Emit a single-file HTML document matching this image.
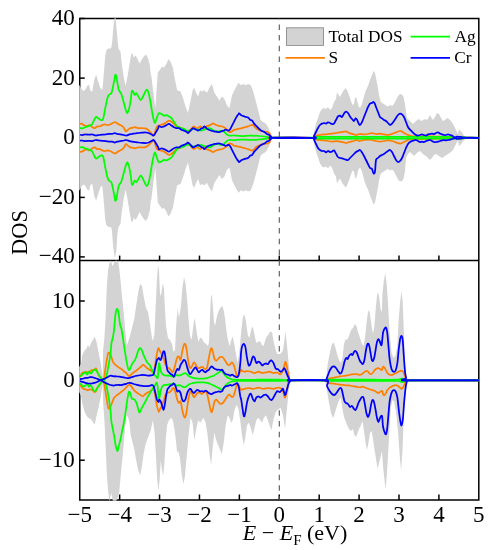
<!DOCTYPE html>
<html><head><meta charset="utf-8"><style>
html,body{margin:0;padding:0;background:#fff;}
svg{display:block;}
text{font-family:"Liberation Serif","Times New Roman",serif;fill:#000;}
</style></head><body>
<svg width="494" height="550" viewBox="0 0 494 550">
<rect width="494" height="550" fill="#fff"/>
<defs>
<clipPath id="ct"><rect x="79.0" y="17.75" width="400.55" height="242.85000000000002"/></clipPath>
<clipPath id="cb"><rect x="79.0" y="260.6" width="400.55" height="240.14999999999998"/></clipPath>
</defs><rect x="79.75" y="18.5" width="399.05" height="481.5" fill="none" stroke="#000" stroke-width="1.5"/><line x1="79.75" y1="260.6" x2="478.8" y2="260.6" stroke="#000" stroke-width="1.5"/><line x1="119.66" y1="260.6" x2="119.66" y2="255.60000000000002" stroke="#000" stroke-width="1.5"/><line x1="119.66" y1="500.0" x2="119.66" y2="494.5" stroke="#000" stroke-width="1.5"/><line x1="159.56" y1="260.6" x2="159.56" y2="255.60000000000002" stroke="#000" stroke-width="1.5"/><line x1="159.56" y1="500.0" x2="159.56" y2="494.5" stroke="#000" stroke-width="1.5"/><line x1="199.47" y1="260.6" x2="199.47" y2="255.60000000000002" stroke="#000" stroke-width="1.5"/><line x1="199.47" y1="500.0" x2="199.47" y2="494.5" stroke="#000" stroke-width="1.5"/><line x1="239.37" y1="260.6" x2="239.37" y2="255.60000000000002" stroke="#000" stroke-width="1.5"/><line x1="239.37" y1="500.0" x2="239.37" y2="494.5" stroke="#000" stroke-width="1.5"/><line x1="279.27" y1="260.6" x2="279.27" y2="255.60000000000002" stroke="#000" stroke-width="1.5"/><line x1="279.27" y1="500.0" x2="279.27" y2="494.5" stroke="#000" stroke-width="1.5"/><line x1="319.18" y1="260.6" x2="319.18" y2="255.60000000000002" stroke="#000" stroke-width="1.5"/><line x1="319.18" y1="500.0" x2="319.18" y2="494.5" stroke="#000" stroke-width="1.5"/><line x1="359.08" y1="260.6" x2="359.08" y2="255.60000000000002" stroke="#000" stroke-width="1.5"/><line x1="359.08" y1="500.0" x2="359.08" y2="494.5" stroke="#000" stroke-width="1.5"/><line x1="398.99" y1="260.6" x2="398.99" y2="255.60000000000002" stroke="#000" stroke-width="1.5"/><line x1="398.99" y1="500.0" x2="398.99" y2="494.5" stroke="#000" stroke-width="1.5"/><line x1="438.90" y1="260.6" x2="438.90" y2="255.60000000000002" stroke="#000" stroke-width="1.5"/><line x1="438.90" y1="500.0" x2="438.90" y2="494.5" stroke="#000" stroke-width="1.5"/><line x1="79.75" y1="18.5" x2="84.75" y2="18.5" stroke="#000" stroke-width="1.5"/><line x1="79.75" y1="78.1" x2="84.75" y2="78.1" stroke="#000" stroke-width="1.5"/><line x1="79.75" y1="137.8" x2="84.75" y2="137.8" stroke="#000" stroke-width="1.5"/><line x1="79.75" y1="197.4" x2="84.75" y2="197.4" stroke="#000" stroke-width="1.5"/><line x1="79.75" y1="256.9" x2="84.75" y2="256.9" stroke="#000" stroke-width="1.5"/><line x1="79.75" y1="301.0" x2="84.75" y2="301.0" stroke="#000" stroke-width="1.5"/><line x1="79.75" y1="380.6" x2="84.75" y2="380.6" stroke="#000" stroke-width="1.5"/><line x1="79.75" y1="460.2" x2="84.75" y2="460.2" stroke="#000" stroke-width="1.5"/><line x1="279.3" y1="18.5" x2="279.3" y2="500.0" stroke="#555" stroke-width="1.1" stroke-dasharray="5.5 5.22" stroke-dashoffset="4.82"/><g clip-path="url(#ct)"><path d="M79.2,84.8 L81.0,87.9 L83.0,90.9 L85.1,89.9 L87.1,85.9 L89.1,84.8 L90.1,89.9 L92.2,91.9 L94.2,79.8 L96.2,74.7 L98.2,81.8 L100.3,87.9 L102.3,89.9 L103.3,79.8 L104.3,67.6 L105.3,55.5 L106.3,50.4 L108.4,48.4 L110.4,48.4 L111.4,47.4 L112.4,39.3 L113.4,27.1 L114.4,19.0 L115.4,16.6 L116.4,27.1 L117.5,39.3 L118.5,48.4 L120.5,51.4 L121.5,61.6 L123.5,75.7 L125.6,85.9 L127.6,75.7 L129.6,63.6 L131.2,54.5 L132.6,53.5 L133.7,57.5 L135.7,55.5 L137.7,59.5 L139.7,63.6 L141.8,59.5 L143.8,56.5 L145.8,54.5 L147.8,57.5 L149.9,65.6 L150.9,75.7 L151.3,75.3 L153.3,92.8 L155.3,107.9 L157.8,72.8 L159.6,70.2 L162.1,66.5 L163.8,67.7 L166.4,64.0 L168.4,58.9 L170.4,61.5 L172.9,67.7 L174.6,77.8 L177.1,90.3 L180.5,91.6 L183.0,97.9 L185.5,106.6 L188.0,112.9 L190.6,100.4 L192.6,90.3 L194.3,87.8 L196.1,92.8 L198.1,96.6 L200.1,90.3 L201.8,91.6 L204.4,90.3 L206.9,92.8 L209.4,87.8 L211.9,84.0 L214.4,92.8 L216.9,96.6 L219.4,100.4 L221.9,96.6 L224.4,99.1 L226.9,105.4 L229.5,107.9 L232.0,95.3 L234.5,90.3 L237.0,85.3 L238.7,82.8 L240.8,85.3 L243.3,84.0 L245.8,85.3 L248.3,84.0 L250.8,85.3 L252.8,90.3 L254.6,96.6 L256.3,103.0 L258.4,111.3 L260.5,119.7 L262.6,121.8 L264.7,122.8 L266.8,124.9 L268.9,129.1 L271.0,134.3 L273.1,137.8 L312.4,137.8 L314.0,132.0 L316.0,124.0 L318.0,118.0 L320.0,112.0 L322.0,109.0 L324.0,108.0 L326.0,109.0 L328.0,107.0 L330.0,110.0 L332.0,108.0 L334.0,102.0 L336.0,99.0 L337.0,92.0 L338.0,94.0 L340.0,97.0 L342.0,93.0 L344.0,90.0 L345.6,88.0 L347.0,90.0 L349.0,95.0 L351.0,101.0 L352.4,105.0 L354.0,104.0 L355.0,98.0 L356.0,97.0 L357.0,100.0 L358.4,106.0 L360.0,108.0 L362.0,104.0 L364.0,96.0 L366.0,90.0 L368.0,86.0 L370.0,80.0 L372.0,75.0 L373.6,71.0 L375.0,73.0 L376.4,80.0 L377.6,86.0 L379.0,95.0 L380.4,101.0 L382.0,103.0 L384.0,104.0 L386.0,105.6 L388.0,106.4 L390.0,105.0 L392.0,106.0 L394.0,104.0 L396.0,100.0 L398.0,96.0 L400.0,94.0 L402.0,94.4 L403.6,97.0 L405.0,104.0 L406.0,112.0 L407.0,118.0 L409.0,120.0 L411.0,122.0 L413.0,124.0 L415.0,122.0 L417.0,120.0 L419.0,119.0 L421.0,121.0 L423.0,120.0 L425.0,119.0 L427.0,120.0 L428.4,118.0 L430.0,115.0 L431.6,118.0 L433.0,120.0 L435.0,117.0 L437.0,113.0 L439.0,114.0 L441.0,118.0 L443.0,121.0 L445.0,120.0 L447.0,118.0 L449.0,119.0 L451.0,121.0 L453.0,124.0 L455.0,128.0 L457.0,132.0 L458.0,134.0 L458.9,129.2 L461.4,131.7 L463.9,135.5 L466.4,137.5 L478.8,137.8 L478.8,137.8 L466.4,138.0 L463.9,140.0 L461.4,143.8 L458.9,146.3 L458.0,140.0 L457.0,142.0 L455.0,146.0 L453.0,150.0 L451.0,152.0 L448.0,154.0 L445.0,156.0 L442.0,158.0 L439.0,156.0 L436.0,154.0 L434.0,155.0 L432.0,158.0 L430.0,160.0 L428.0,158.0 L426.0,156.0 L423.0,154.0 L420.0,151.0 L418.0,152.0 L416.0,154.0 L414.0,156.0 L412.0,154.0 L410.0,152.0 L408.0,154.0 L406.0,158.0 L405.0,171.5 L403.6,178.5 L402.0,181.1 L400.0,181.5 L398.0,179.5 L396.0,175.5 L394.0,171.5 L392.0,169.5 L390.0,170.5 L388.0,169.1 L386.0,169.9 L384.0,171.5 L382.0,172.5 L380.4,174.5 L379.0,180.5 L377.6,189.5 L376.4,195.5 L375.0,202.5 L373.6,204.5 L372.0,200.5 L370.0,195.5 L368.0,189.5 L366.0,185.5 L364.0,179.5 L362.0,171.5 L360.0,167.5 L358.4,169.5 L357.0,175.5 L356.0,178.5 L355.0,177.5 L354.0,171.5 L352.4,170.5 L351.0,174.5 L349.0,180.5 L347.0,185.5 L345.6,187.5 L344.0,185.5 L342.0,182.5 L340.0,178.5 L338.0,181.5 L337.0,183.5 L336.0,176.5 L334.0,173.5 L332.0,167.5 L330.0,165.5 L328.0,168.5 L326.0,166.5 L324.0,167.5 L322.0,166.5 L320.0,163.5 L318.0,157.5 L316.0,151.5 L314.0,143.5 L312.4,137.8 L273.1,137.7 L271.0,141.2 L268.9,146.4 L266.8,150.6 L264.7,152.7 L262.6,153.7 L260.5,155.8 L258.4,164.2 L256.3,172.5 L254.6,178.9 L252.8,185.2 L250.8,190.2 L248.3,191.5 L245.8,190.2 L243.3,191.5 L240.8,190.2 L238.7,192.7 L237.0,190.2 L234.5,185.2 L232.0,180.2 L229.5,167.6 L226.9,170.1 L224.4,176.4 L221.9,178.9 L219.4,175.1 L216.9,178.9 L214.4,182.7 L211.9,191.5 L209.4,187.7 L206.9,182.7 L204.4,185.2 L201.8,183.9 L200.1,185.2 L198.1,178.9 L196.1,182.7 L194.3,187.7 L192.6,185.2 L190.6,175.1 L188.0,162.6 L185.5,168.9 L183.0,177.6 L180.5,183.9 L177.1,185.2 L174.6,197.7 L172.9,207.8 L170.4,214.0 L168.4,216.6 L166.4,211.5 L163.8,207.8 L162.1,209.0 L159.6,205.3 L157.8,202.7 L155.3,167.6 L153.3,182.7 L151.3,200.2 L150.9,199.8 L149.9,209.9 L147.8,218.0 L145.8,221.0 L143.8,219.0 L141.8,216.0 L139.7,211.9 L137.7,216.0 L135.7,220.0 L133.7,218.0 L132.6,222.0 L131.2,221.0 L129.6,211.9 L127.6,199.8 L125.6,189.6 L123.5,199.8 L121.5,213.9 L120.5,224.1 L118.5,227.1 L117.6,232.0 L117.0,240.0 L116.4,250.0 L115.2,256.9 L114.6,256.9 L114.0,252.0 L113.0,245.0 L112.1,232.0 L111.4,228.1 L110.4,227.1 L108.4,227.1 L106.3,225.1 L105.3,220.0 L104.3,207.9 L103.3,195.7 L102.3,185.6 L100.3,187.6 L98.2,193.7 L96.2,200.8 L94.2,195.7 L92.2,183.6 L90.1,185.6 L89.1,190.7 L87.1,189.6 L85.1,185.6 L83.0,184.6 L81.0,187.6 L79.2,190.7 Z" fill="#d3d3d3" stroke="none"/><path d="M80.0,123.9C80.2,123.9 80.8,123.4 81.5,123.6C82.2,123.8 83.2,124.7 84.0,125.1C84.8,125.5 85.8,126.0 86.5,126.1C87.2,126.2 87.6,125.7 88.1,125.6C88.7,125.4 89.1,124.8 89.8,125.1C90.5,125.3 91.5,126.7 92.3,127.2C93.1,127.7 93.9,128.2 94.8,128.1C95.6,127.9 96.4,126.7 97.3,126.4C98.1,126.1 98.9,126.6 99.8,126.4C100.6,126.2 101.4,125.4 102.2,125.1C103.1,124.7 103.9,124.4 104.7,124.4C105.6,124.4 106.4,125.0 107.2,125.1C108.1,125.1 108.9,125.0 109.7,124.7C110.5,124.5 111.4,123.9 112.2,123.4C113.0,123.0 113.9,122.1 114.7,122.1C115.5,122.0 116.2,122.7 116.8,123.1C117.5,123.5 118.1,124.0 118.8,124.4C119.6,124.8 120.5,125.0 121.3,125.6C122.2,126.1 123.1,126.8 123.8,127.7C124.6,128.7 125.1,131.0 125.8,131.4C126.5,131.7 127.2,130.3 128.0,129.7C128.7,129.2 129.6,128.4 130.5,128.1C131.3,127.7 132.1,127.9 133.0,127.7C133.8,127.6 134.6,127.2 135.4,127.2C136.3,127.3 137.1,127.9 137.9,128.1C138.8,128.2 139.6,128.1 140.4,128.1C141.3,128.1 142.1,128.0 142.9,128.1C143.7,128.1 144.6,128.1 145.4,128.4C146.2,128.7 147.1,129.1 147.9,129.7C148.7,130.4 149.6,131.4 150.4,132.2C151.2,133.0 152.2,134.4 152.9,134.7C153.6,135.0 154.0,135.0 154.5,133.9C155.1,132.8 155.6,129.4 156.2,128.1C156.7,126.7 157.4,126.0 157.9,125.6C158.3,125.2 158.4,125.7 159.0,125.6C159.6,125.4 160.7,125.0 161.5,124.7C162.3,124.5 163.2,124.3 164.0,123.9C164.8,123.5 165.6,122.8 166.5,122.3C167.3,121.7 168.1,120.7 169.0,120.6C169.8,120.5 170.6,121.2 171.5,121.8C172.3,122.3 173.1,123.1 173.9,123.9C174.8,124.7 175.6,125.8 176.4,126.4C177.3,127.0 178.1,127.0 178.9,127.2C179.8,127.5 180.6,127.7 181.4,128.1C182.2,128.4 183.1,128.8 183.9,129.4C184.7,129.9 185.6,130.9 186.4,131.4C187.2,131.9 187.9,132.5 188.5,132.2C189.2,131.9 189.9,130.5 190.5,129.7C191.1,129.0 191.6,128.3 192.2,127.7C192.8,127.2 193.3,126.4 193.9,126.4C194.4,126.4 195.0,127.4 195.5,127.7C196.1,128.1 196.6,128.5 197.2,128.4C197.7,128.3 198.3,127.6 198.8,127.2C199.4,126.9 199.9,126.3 200.5,126.4C201.1,126.5 201.6,127.8 202.2,128.1C202.7,128.3 203.1,128.0 203.8,127.7C204.5,127.5 205.5,126.8 206.3,126.4C207.1,126.0 208.0,125.9 208.8,125.6C209.6,125.2 210.6,124.8 211.3,124.4C212.0,124.0 212.3,123.4 213.0,123.4C213.6,123.5 214.6,124.4 215.4,124.7C216.3,125.1 217.1,125.3 217.9,125.6C218.8,125.8 219.6,125.9 220.4,126.1C221.3,126.3 222.1,126.4 222.9,126.7C223.7,127.1 224.6,127.4 225.4,128.1C226.2,128.7 227.2,129.9 227.9,130.6C228.6,131.2 228.9,132.1 229.6,132.2C230.2,132.3 231.4,131.7 232.0,131.4C232.7,131.0 232.4,130.5 233.4,130.1C234.3,129.8 236.1,129.4 237.5,129.1C238.9,128.8 240.3,128.4 241.7,128.1C243.1,127.7 244.7,127.4 245.9,127.0C247.1,126.7 248.0,126.3 249.0,126.0C250.1,125.6 251.3,124.9 252.2,124.9C253.0,125.0 253.6,125.8 254.3,126.4C254.9,127.0 255.5,127.8 256.3,128.5C257.2,129.1 258.4,129.7 259.5,130.1C260.5,130.6 261.6,130.9 262.6,131.2C263.7,131.5 264.9,131.6 265.7,131.8C266.6,132.0 267.1,131.9 267.8,132.2C268.5,132.6 269.1,133.0 269.9,133.9C270.8,134.8 266.0,137.1 273.1,137.8C280.1,138.4 305.6,138.0 312.4,137.8C319.2,137.5 313.4,136.8 314.0,136.4C314.6,136.0 315.0,135.8 316.0,135.6C317.0,135.4 318.7,135.2 320.0,135.0C321.3,134.8 322.7,134.6 324.0,134.4C325.3,134.2 326.7,134.1 328.0,134.0C329.3,133.9 330.7,133.8 332.0,133.6C333.3,133.4 334.7,133.2 336.0,133.0C337.3,132.8 338.7,132.6 340.0,132.4C341.3,132.2 343.0,131.8 344.0,131.6C345.0,131.4 345.3,131.3 346.0,131.4C346.7,131.5 347.2,132.0 348.0,132.4C348.8,132.8 350.0,133.3 351.0,133.6C352.0,133.9 353.2,134.2 354.0,134.4C354.8,134.6 355.3,135.0 356.0,135.0C356.7,135.0 357.3,134.6 358.0,134.4C358.7,134.2 359.0,134.0 360.0,134.0C361.0,134.0 362.7,134.4 364.0,134.4C365.3,134.4 366.7,134.2 368.0,134.0C369.3,133.8 370.7,133.0 372.0,133.0C373.3,133.0 374.7,133.9 376.0,134.0C377.3,134.1 378.7,133.5 380.0,133.6C381.3,133.7 382.7,134.2 384.0,134.4C385.3,134.6 386.7,135.1 388.0,135.0C389.3,134.9 390.7,134.4 392.0,134.0C393.3,133.6 394.7,132.9 396.0,132.4C397.3,131.9 399.0,131.1 400.0,131.0C401.0,130.9 401.3,131.3 402.0,131.6C402.7,131.9 403.3,132.6 404.0,133.0C404.7,133.4 405.3,133.7 406.0,134.0C406.7,134.3 407.2,134.7 408.0,135.0C408.8,135.3 410.0,135.8 411.0,136.0C412.0,136.2 412.5,136.3 414.0,136.4C415.5,136.5 418.0,136.5 420.0,136.4C422.0,136.3 424.0,136.0 426.0,136.0C428.0,136.0 429.7,136.3 432.0,136.4C434.3,136.5 437.3,136.5 440.0,136.6C442.7,136.7 445.3,136.8 448.0,137.0C450.7,137.2 454.2,137.6 456.0,137.6C457.8,137.6 457.5,136.8 458.9,136.8C460.2,136.7 460.5,137.3 463.9,137.5C467.2,137.7 476.3,137.7 478.8,137.8" fill="none" stroke="#ff8000" stroke-width="1.75" stroke-linejoin="round"/><path d="M80.0,151.6C80.2,151.6 80.8,152.1 81.5,151.9C82.2,151.7 83.2,150.8 84.0,150.4C84.8,150.0 85.8,149.5 86.5,149.4C87.2,149.3 87.6,149.8 88.1,149.9C88.7,150.1 89.1,150.7 89.8,150.4C90.5,150.2 91.5,148.8 92.3,148.3C93.1,147.8 93.9,147.3 94.8,147.4C95.6,147.6 96.4,148.8 97.3,149.1C98.1,149.4 98.9,148.9 99.8,149.1C100.6,149.3 101.4,150.1 102.2,150.4C103.1,150.8 103.9,151.1 104.7,151.1C105.6,151.1 106.4,150.5 107.2,150.4C108.1,150.4 108.9,150.5 109.7,150.8C110.5,151.0 111.4,151.6 112.2,152.1C113.0,152.5 113.9,153.4 114.7,153.4C115.5,153.5 116.2,152.8 116.8,152.4C117.5,152.0 118.1,151.5 118.8,151.1C119.6,150.7 120.5,150.5 121.3,149.9C122.2,149.4 123.1,148.7 123.8,147.8C124.6,146.8 125.1,144.5 125.8,144.1C126.5,143.8 127.2,145.2 128.0,145.8C128.7,146.3 129.6,147.1 130.5,147.4C131.3,147.8 132.1,147.6 133.0,147.8C133.8,147.9 134.6,148.3 135.4,148.3C136.3,148.2 137.1,147.6 137.9,147.4C138.8,147.3 139.6,147.4 140.4,147.4C141.3,147.4 142.1,147.5 142.9,147.4C143.7,147.4 144.6,147.4 145.4,147.1C146.2,146.8 147.1,146.4 147.9,145.8C148.7,145.1 149.6,144.1 150.4,143.3C151.2,142.5 152.2,141.1 152.9,140.8C153.6,140.5 154.0,140.5 154.5,141.6C155.1,142.7 155.6,146.1 156.2,147.4C156.7,148.8 157.4,149.5 157.9,149.9C158.3,150.3 158.4,149.8 159.0,149.9C159.6,150.1 160.7,150.5 161.5,150.8C162.3,151.0 163.2,151.2 164.0,151.6C164.8,152.0 165.6,152.7 166.5,153.2C167.3,153.8 168.1,154.8 169.0,154.9C169.8,155.0 170.6,154.3 171.5,153.7C172.3,153.2 173.1,152.4 173.9,151.6C174.8,150.8 175.6,149.7 176.4,149.1C177.3,148.5 178.1,148.5 178.9,148.3C179.8,148.0 180.6,147.8 181.4,147.4C182.2,147.1 183.1,146.7 183.9,146.1C184.7,145.6 185.6,144.6 186.4,144.1C187.2,143.6 187.9,143.0 188.5,143.3C189.2,143.6 189.9,145.0 190.5,145.8C191.1,146.5 191.6,147.2 192.2,147.8C192.8,148.3 193.3,149.1 193.9,149.1C194.4,149.1 195.0,148.1 195.5,147.8C196.1,147.4 196.6,147.0 197.2,147.1C197.7,147.2 198.3,147.9 198.8,148.3C199.4,148.6 199.9,149.2 200.5,149.1C201.1,149.0 201.6,147.7 202.2,147.4C202.7,147.2 203.1,147.5 203.8,147.8C204.5,148.0 205.5,148.7 206.3,149.1C207.1,149.5 208.0,149.6 208.8,149.9C209.6,150.3 210.6,150.7 211.3,151.1C212.0,151.5 212.3,152.1 213.0,152.1C213.6,152.0 214.6,151.1 215.4,150.8C216.3,150.4 217.1,150.2 217.9,149.9C218.8,149.7 219.6,149.6 220.4,149.4C221.3,149.2 222.1,149.1 222.9,148.8C223.7,148.4 224.6,148.1 225.4,147.4C226.2,146.8 227.2,145.6 227.9,144.9C228.6,144.3 228.9,143.4 229.6,143.3C230.2,143.2 231.4,143.8 232.0,144.1C232.7,144.5 232.4,145.0 233.4,145.4C234.3,145.7 236.1,146.1 237.5,146.4C238.9,146.7 240.3,147.1 241.7,147.4C243.1,147.8 244.7,148.1 245.9,148.5C247.1,148.8 248.0,149.2 249.0,149.5C250.1,149.9 251.3,150.6 252.2,150.6C253.0,150.5 253.6,149.7 254.3,149.1C254.9,148.5 255.5,147.7 256.3,147.0C257.2,146.4 258.4,145.8 259.5,145.4C260.5,144.9 261.6,144.6 262.6,144.3C263.7,144.0 264.9,143.9 265.7,143.7C266.6,143.5 267.1,143.6 267.8,143.3C268.5,142.9 269.1,142.5 269.9,141.6C270.8,140.7 266.0,138.4 273.1,137.7C280.1,137.1 305.2,137.4 312.4,137.8C319.6,138.1 314.7,139.2 316.0,139.6C317.3,140.0 318.7,139.9 320.0,140.0C321.3,140.1 322.7,140.2 324.0,140.4C325.3,140.6 326.7,140.8 328.0,141.0C329.3,141.2 330.7,141.6 332.0,141.6C333.3,141.6 334.7,141.0 336.0,141.0C337.3,141.0 338.7,141.4 340.0,141.6C341.3,141.8 343.0,142.2 344.0,142.4C345.0,142.6 345.3,143.0 346.0,143.0C346.7,143.0 347.2,142.6 348.0,142.4C348.8,142.2 350.0,141.8 351.0,141.6C352.0,141.4 353.2,141.3 354.0,141.0C354.8,140.7 355.3,140.1 356.0,140.0C356.7,139.9 357.3,140.4 358.0,140.6C358.7,140.8 359.0,141.1 360.0,141.0C361.0,140.9 362.7,140.2 364.0,140.0C365.3,139.8 366.7,139.6 368.0,139.6C369.3,139.6 370.7,139.8 372.0,140.0C373.3,140.2 374.7,140.7 376.0,141.0C377.3,141.3 378.7,141.6 380.0,141.6C381.3,141.6 382.7,141.2 384.0,141.0C385.3,140.8 386.7,140.4 388.0,140.4C389.3,140.4 390.7,140.7 392.0,141.0C393.3,141.3 394.7,142.0 396.0,142.4C397.3,142.8 399.0,143.5 400.0,143.6C401.0,143.7 401.3,143.3 402.0,143.0C402.7,142.7 403.3,142.3 404.0,142.0C404.7,141.7 405.3,141.3 406.0,141.0C406.7,140.7 407.2,140.3 408.0,140.0C408.8,139.7 410.0,139.4 411.0,139.2C412.0,139.0 411.5,139.0 414.0,139.0C416.5,139.0 422.3,139.1 426.0,139.0C429.7,138.9 432.3,138.7 436.0,138.6C439.7,138.5 444.7,138.5 448.0,138.4C451.3,138.3 454.2,137.9 456.0,138.0C457.8,138.1 457.5,138.7 458.9,138.7C460.2,138.7 460.5,138.2 463.9,138.0C467.2,137.8 476.3,137.8 478.8,137.8" fill="none" stroke="#ff8000" stroke-width="1.75" stroke-linejoin="round"/><path d="M80.0,128.1C80.4,128.1 81.5,128.5 82.3,128.4C83.1,128.3 84.0,127.6 84.8,127.2C85.6,126.9 86.5,126.7 87.3,126.4C88.1,126.1 89.0,126.0 89.8,125.6C90.6,125.2 91.3,125.3 92.3,123.9C93.2,122.5 94.6,118.2 95.6,117.3C96.6,116.3 97.3,117.7 98.1,118.1C98.9,118.5 99.8,119.6 100.6,119.8C101.4,119.9 102.2,121.1 103.1,118.9C103.9,116.7 104.9,109.8 105.6,106.5C106.3,103.2 106.7,100.9 107.2,99.0C107.8,97.1 108.2,95.8 108.9,94.9C109.6,93.9 110.7,94.6 111.4,93.2C112.1,91.8 112.5,88.8 113.0,86.6C113.5,84.3 114.0,81.9 114.4,79.9C114.7,78.0 114.9,75.5 115.2,74.9C115.5,74.4 116.0,75.2 116.4,76.6C116.7,78.0 117.1,81.0 117.5,83.2C117.9,85.5 118.2,88.1 118.8,89.9C119.5,91.7 120.6,92.1 121.3,94.0C122.1,96.0 122.8,99.0 123.5,101.5C124.2,104.0 124.9,107.0 125.5,109.0C126.1,110.9 126.6,113.0 127.1,113.1C127.7,113.3 128.2,111.7 128.8,109.8C129.4,107.9 130.0,104.5 130.5,101.5C131.0,98.5 131.4,93.3 131.8,91.5C132.2,89.8 132.5,90.7 133.0,91.2C133.4,91.8 134.1,94.5 134.6,94.9C135.2,95.2 135.7,93.1 136.3,93.2C136.8,93.3 137.2,94.6 137.9,95.7C138.6,96.8 139.7,99.4 140.4,99.8C141.1,100.3 141.4,99.3 142.1,98.2C142.8,97.1 143.8,94.6 144.6,93.2C145.3,91.8 146.0,89.5 146.7,89.5C147.4,89.5 148.1,91.2 148.7,93.2C149.3,95.2 149.8,98.5 150.4,101.5C150.9,104.5 151.5,108.4 152.0,111.5C152.6,114.5 153.2,117.8 153.7,119.8C154.2,121.7 154.6,123.1 155.0,123.1C155.4,123.1 155.7,121.1 156.2,119.8C156.7,118.4 157.4,115.9 157.9,114.8C158.3,113.7 158.4,113.3 159.0,113.1C159.6,113.0 160.7,113.5 161.5,114.0C162.3,114.4 163.2,115.4 164.0,115.6C164.8,115.8 165.6,115.0 166.5,115.1C167.3,115.3 168.1,115.9 169.0,116.4C169.8,116.9 170.8,117.4 171.5,118.1C172.1,118.8 172.6,119.8 173.1,120.6C173.7,121.4 174.2,122.3 174.8,123.1C175.3,123.9 175.9,124.9 176.4,125.6C177.0,126.3 177.5,126.9 178.1,127.2C178.6,127.6 179.2,127.6 179.8,127.7C180.3,127.9 180.7,127.9 181.4,128.1C182.1,128.3 183.1,128.5 183.9,128.9C184.7,129.3 185.6,130.3 186.4,130.6C187.2,130.8 188.1,130.7 188.9,130.6C189.7,130.4 190.5,130.0 191.4,129.7C192.2,129.4 193.0,128.9 193.9,128.9C194.7,128.8 195.5,129.3 196.4,129.4C197.2,129.5 198.0,129.5 198.8,129.7C199.7,129.9 200.5,130.6 201.3,130.6C202.2,130.6 203.0,130.0 203.8,129.7C204.7,129.4 205.5,129.2 206.3,128.9C207.1,128.6 208.0,128.1 208.8,128.1C209.6,128.1 210.5,128.5 211.3,128.9C212.1,129.3 213.0,130.1 213.8,130.6C214.6,131.0 215.4,131.2 216.3,131.4C217.1,131.5 217.9,131.5 218.8,131.4C219.6,131.2 220.4,130.6 221.3,130.6C222.1,130.6 222.9,130.8 223.7,131.4C224.6,131.9 225.4,133.2 226.2,133.9C227.1,134.6 227.8,135.3 228.7,135.5C229.7,135.8 231.3,135.6 232.0,135.5C232.8,135.5 231.7,135.3 233.4,135.4C235.0,135.4 238.9,136.0 241.7,136.0C244.5,136.0 247.3,135.6 250.1,135.6C252.9,135.6 255.6,135.8 258.4,136.0C261.2,136.2 264.4,136.5 266.8,136.8C269.2,137.1 265.3,137.6 273.1,137.8C280.8,137.9 305.6,137.7 313.1,137.5C320.7,137.4 311.5,136.9 318.2,136.8C324.9,136.7 344.5,136.8 353.3,136.8C362.1,136.8 367.5,136.8 370.9,136.8C374.2,136.8 359.3,136.8 373.5,136.8C387.8,136.8 441.1,136.7 456.3,136.8C471.6,136.9 461.4,137.4 465.1,137.5C468.9,137.7 476.5,137.7 478.8,137.8" fill="none" stroke="#00ff00" stroke-width="1.75" stroke-linejoin="round"/><path d="M80.0,147.4C80.4,147.4 81.5,147.0 82.3,147.1C83.1,147.2 84.0,147.9 84.8,148.3C85.6,148.6 86.5,148.8 87.3,149.1C88.1,149.4 89.0,149.5 89.8,149.9C90.6,150.3 91.3,150.2 92.3,151.6C93.2,153.0 94.6,157.3 95.6,158.2C96.6,159.2 97.3,157.8 98.1,157.4C98.9,157.0 99.8,155.9 100.6,155.7C101.4,155.6 102.2,154.4 103.1,156.6C103.9,158.8 104.9,165.7 105.6,169.0C106.3,172.3 106.7,174.6 107.2,176.5C107.8,178.4 108.2,179.7 108.9,180.6C109.6,181.6 110.7,180.9 111.4,182.3C112.1,183.7 112.5,186.7 113.0,188.9C113.5,191.2 114.0,193.6 114.4,195.6C114.7,197.5 114.9,200.0 115.2,200.6C115.5,201.1 116.0,200.3 116.4,198.9C116.7,197.5 117.1,194.5 117.5,192.3C117.9,190.0 118.2,187.4 118.8,185.6C119.5,183.8 120.6,183.4 121.3,181.5C122.1,179.5 122.8,176.5 123.5,174.0C124.2,171.5 124.9,168.5 125.5,166.5C126.1,164.6 126.6,162.5 127.1,162.4C127.7,162.2 128.2,163.8 128.8,165.7C129.4,167.6 130.0,171.0 130.5,174.0C131.0,177.0 131.4,182.2 131.8,184.0C132.2,185.7 132.5,184.8 133.0,184.3C133.4,183.7 134.1,181.0 134.6,180.6C135.2,180.3 135.7,182.4 136.3,182.3C136.8,182.2 137.2,180.9 137.9,179.8C138.6,178.7 139.7,176.1 140.4,175.7C141.1,175.2 141.4,176.2 142.1,177.3C142.8,178.4 143.8,180.9 144.6,182.3C145.3,183.7 146.0,186.0 146.7,186.0C147.4,186.0 148.1,184.3 148.7,182.3C149.3,180.3 149.8,177.0 150.4,174.0C150.9,171.0 151.5,167.1 152.0,164.0C152.6,161.0 153.2,157.7 153.7,155.7C154.2,153.8 154.6,152.4 155.0,152.4C155.4,152.4 155.7,154.4 156.2,155.7C156.7,157.1 157.4,159.6 157.9,160.7C158.3,161.8 158.4,162.2 159.0,162.4C159.6,162.5 160.7,162.0 161.5,161.5C162.3,161.1 163.2,160.1 164.0,159.9C164.8,159.7 165.6,160.5 166.5,160.4C167.3,160.2 168.1,159.6 169.0,159.1C169.8,158.6 170.8,158.1 171.5,157.4C172.1,156.7 172.6,155.7 173.1,154.9C173.7,154.1 174.2,153.2 174.8,152.4C175.3,151.6 175.9,150.6 176.4,149.9C177.0,149.2 177.5,148.6 178.1,148.3C178.6,147.9 179.2,147.9 179.8,147.8C180.3,147.6 180.7,147.6 181.4,147.4C182.1,147.2 183.1,147.0 183.9,146.6C184.7,146.2 185.6,145.2 186.4,144.9C187.2,144.7 188.1,144.8 188.9,144.9C189.7,145.1 190.5,145.5 191.4,145.8C192.2,146.1 193.0,146.6 193.9,146.6C194.7,146.7 195.5,146.2 196.4,146.1C197.2,146.0 198.0,146.0 198.8,145.8C199.7,145.6 200.5,144.9 201.3,144.9C202.2,144.9 203.0,145.5 203.8,145.8C204.7,146.1 205.5,146.3 206.3,146.6C207.1,146.9 208.0,147.4 208.8,147.4C209.6,147.4 210.5,147.0 211.3,146.6C212.1,146.2 213.0,145.4 213.8,144.9C214.6,144.5 215.4,144.3 216.3,144.1C217.1,144.0 217.9,144.0 218.8,144.1C219.6,144.3 220.4,144.9 221.3,144.9C222.1,144.9 222.9,144.7 223.7,144.1C224.6,143.6 225.4,142.3 226.2,141.6C227.1,140.9 227.8,140.2 228.7,140.0C229.7,139.7 231.3,139.9 232.0,140.0C232.8,140.0 231.7,140.2 233.4,140.1C235.0,140.1 238.9,139.5 241.7,139.5C244.5,139.5 247.3,139.9 250.1,139.9C252.9,139.9 255.6,139.7 258.4,139.5C261.2,139.3 264.4,139.0 266.8,138.7C269.2,138.4 265.3,137.9 273.1,137.7C280.8,137.6 305.6,137.8 313.1,138.0C320.7,138.1 311.5,138.6 318.2,138.7C324.9,138.8 344.5,138.7 353.3,138.7C362.1,138.7 367.5,138.7 370.9,138.7C374.2,138.7 359.3,138.7 373.5,138.7C387.8,138.7 441.1,138.8 456.3,138.7C471.6,138.6 461.4,138.1 465.1,138.0C468.9,137.8 476.5,137.8 478.8,137.8" fill="none" stroke="#00ff00" stroke-width="1.75" stroke-linejoin="round"/><path d="M80.0,134.7C80.4,134.8 81.4,135.1 82.3,135.0C83.3,135.0 84.5,134.4 85.6,134.4C86.7,134.3 87.9,134.7 89.0,134.7C90.1,134.7 91.2,134.2 92.3,134.4C93.4,134.5 94.5,135.4 95.6,135.5C96.7,135.6 97.8,135.2 98.9,135.0C100.0,134.9 101.1,134.8 102.2,134.7C103.3,134.6 104.5,134.5 105.6,134.4C106.7,134.2 107.8,134.0 108.9,133.9C110.0,133.8 111.2,134.0 112.2,133.9C113.2,133.7 113.9,133.0 114.7,133.0C115.5,133.0 116.2,133.6 117.2,133.9C118.1,134.1 119.4,134.2 120.5,134.4C121.6,134.6 122.9,134.8 123.8,135.0C124.8,135.2 125.5,135.6 126.3,135.5C127.1,135.5 127.8,135.0 128.8,134.7C129.8,134.4 131.0,134.1 132.1,133.9C133.2,133.6 134.3,133.5 135.4,133.4C136.5,133.2 137.7,133.2 138.8,133.0C139.9,132.9 141.0,132.8 142.1,132.7C143.2,132.6 144.3,132.3 145.4,132.4C146.5,132.4 147.6,132.7 148.7,133.0C149.8,133.4 151.2,134.3 152.0,134.7C152.9,135.1 153.1,135.8 153.7,135.5C154.3,135.3 154.7,134.1 155.4,133.0C156.1,131.9 157.2,130.1 157.9,128.9C158.5,127.7 158.4,126.3 159.0,126.1C159.6,125.8 160.7,127.2 161.5,127.2C162.3,127.3 163.2,126.8 164.0,126.4C164.8,126.0 165.6,125.5 166.5,125.1C167.3,124.7 168.1,123.8 169.0,123.9C169.8,124.0 170.6,125.0 171.5,125.6C172.3,126.1 173.1,126.8 173.9,127.2C174.8,127.6 175.6,127.9 176.4,128.1C177.3,128.2 178.1,127.8 178.9,128.1C179.8,128.3 180.6,129.3 181.4,129.7C182.2,130.1 183.1,130.2 183.9,130.6C184.7,130.9 185.7,131.3 186.4,131.7C187.1,132.1 187.5,133.1 188.1,133.0C188.6,133.0 189.2,131.9 189.7,131.4C190.3,130.8 190.8,130.3 191.4,129.7C191.9,129.2 192.5,128.2 193.0,128.1C193.6,127.9 194.1,128.6 194.7,128.9C195.2,129.2 195.8,129.4 196.4,129.7C196.9,130.0 197.5,130.6 198.0,130.6C198.6,130.6 199.1,130.1 199.7,129.7C200.2,129.4 200.8,128.7 201.3,128.4C201.9,128.1 202.5,128.4 203.0,128.1C203.5,127.7 203.7,126.5 204.2,126.4C204.6,126.3 205.0,126.8 205.5,127.2C206.0,127.6 206.6,128.5 207.1,128.9C207.7,129.3 208.1,129.4 208.8,129.7C209.5,130.0 210.5,130.3 211.3,130.6C212.1,130.8 213.0,131.2 213.8,131.4C214.6,131.6 215.4,131.6 216.3,131.7C217.1,131.9 217.9,132.3 218.8,132.2C219.6,132.2 220.4,131.7 221.3,131.4C222.1,131.1 223.0,130.8 223.7,130.6C224.4,130.3 224.8,129.8 225.4,129.7C226.0,129.6 226.5,129.9 227.1,130.1C227.6,130.2 228.2,130.7 228.7,130.6C229.3,130.4 229.8,129.7 230.4,128.9C230.9,128.1 231.5,126.7 232.0,125.6C232.6,124.5 233.1,123.4 233.7,122.3C234.3,121.1 234.8,120.0 235.4,118.9C235.9,117.9 236.5,116.9 237.0,116.1C237.6,115.3 238.3,114.4 238.7,114.0C239.0,113.5 238.7,113.2 239.2,113.4C239.7,113.7 240.8,115.0 241.7,115.5C242.7,116.0 243.8,116.2 244.8,116.6C245.9,116.9 247.1,117.1 248.0,117.6C248.9,118.1 249.4,119.2 250.1,119.7C250.8,120.2 251.5,120.0 252.2,120.7C252.9,121.4 253.6,123.0 254.3,123.9C254.9,124.7 255.6,125.3 256.3,126.0C257.0,126.7 257.7,127.4 258.4,128.1C259.1,128.8 259.8,129.6 260.5,130.1C261.2,130.7 261.9,130.8 262.6,131.2C263.3,131.5 264.0,131.8 264.7,132.2C265.4,132.7 266.1,133.5 266.8,133.9C267.5,134.3 268.2,134.3 268.9,134.7C269.6,135.2 270.3,135.9 271.0,136.4C271.7,136.9 266.2,137.5 273.1,137.8C280.0,138.0 305.6,138.0 312.4,137.8C319.2,137.5 313.4,137.0 314.0,136.0C314.6,135.0 315.3,133.3 316.0,132.0C316.7,130.7 317.3,129.2 318.0,128.0C318.7,126.8 319.3,125.7 320.0,125.0C320.7,124.3 321.3,123.9 322.0,123.6C322.7,123.3 323.3,123.0 324.0,123.0C324.7,123.0 325.3,123.7 326.0,123.6C326.7,123.5 327.3,122.5 328.0,122.4C328.7,122.3 329.3,122.7 330.0,123.0C330.7,123.3 331.3,123.9 332.0,124.0C332.7,124.1 333.3,124.3 334.0,123.6C334.7,122.9 335.3,121.2 336.0,120.0C336.7,118.8 337.3,117.1 338.0,116.4C338.7,115.7 339.3,115.5 340.0,115.6C340.7,115.7 341.3,117.3 342.0,117.0C342.7,116.7 343.3,114.5 344.0,113.6C344.7,112.7 345.3,111.7 346.0,111.6C346.7,111.5 347.3,112.2 348.0,113.0C348.7,113.8 349.3,115.4 350.0,116.4C350.7,117.4 351.3,118.2 352.0,119.0C352.7,119.8 353.4,121.1 354.0,121.0C354.6,120.9 355.1,118.6 355.6,118.4C356.1,118.2 356.5,118.8 357.0,119.6C357.5,120.4 357.9,122.1 358.4,123.0C358.9,123.9 359.4,125.2 360.0,125.0C360.6,124.8 361.3,123.3 362.0,122.0C362.7,120.7 363.3,118.7 364.0,117.0C364.7,115.3 365.3,113.7 366.0,112.0C366.7,110.3 367.3,108.4 368.0,107.0C368.7,105.6 369.3,104.3 370.0,103.6C370.7,102.9 371.4,103.3 372.0,103.0C372.6,102.7 373.1,101.8 373.6,102.0C374.1,102.2 374.6,103.2 375.0,104.0C375.4,104.8 375.5,105.7 376.0,107.0C376.5,108.3 377.3,110.3 378.0,112.0C378.7,113.7 379.3,115.9 380.0,117.0C380.7,118.1 381.3,117.9 382.0,118.4C382.7,118.9 383.3,119.6 384.0,120.0C384.7,120.4 385.3,120.5 386.0,121.0C386.7,121.5 387.3,122.3 388.0,123.0C388.7,123.7 389.3,124.9 390.0,125.0C390.7,125.1 391.3,124.3 392.0,123.6C392.7,122.9 393.3,121.9 394.0,121.0C394.7,120.1 395.3,119.0 396.0,118.0C396.7,117.0 397.3,115.7 398.0,115.0C398.7,114.3 399.3,113.7 400.0,113.6C400.7,113.5 401.3,113.8 402.0,114.4C402.7,115.0 403.3,115.7 404.0,117.0C404.7,118.3 405.3,120.3 406.0,122.0C406.7,123.7 407.3,125.7 408.0,127.0C408.7,128.3 409.3,128.8 410.0,129.6C410.7,130.4 411.3,130.9 412.0,131.6C412.7,132.3 413.3,133.0 414.0,133.6C414.7,134.2 415.3,134.7 416.0,135.0C416.7,135.3 417.3,135.6 418.0,135.6C418.7,135.6 419.3,135.2 420.0,135.0C420.7,134.8 421.3,134.4 422.0,134.4C422.7,134.4 423.3,134.8 424.0,135.0C424.7,135.2 425.3,135.7 426.0,135.6C426.7,135.5 427.3,134.7 428.0,134.4C428.7,134.1 429.3,134.1 430.0,134.0C430.7,133.9 431.3,133.6 432.0,133.6C432.7,133.6 433.3,134.1 434.0,134.0C434.7,133.9 435.3,133.3 436.0,133.0C436.7,132.7 437.3,132.3 438.0,132.4C438.7,132.5 439.3,133.3 440.0,133.6C440.7,133.9 441.3,134.2 442.0,134.4C442.7,134.6 443.3,134.9 444.0,135.0C444.7,135.1 445.3,135.1 446.0,135.0C446.7,134.9 447.3,134.4 448.0,134.4C448.7,134.4 449.3,134.8 450.0,135.0C450.7,135.2 451.3,135.3 452.0,135.6C452.7,135.9 453.3,136.7 454.0,137.0C454.7,137.3 455.6,137.6 456.0,137.6C456.4,137.6 455.9,136.9 456.3,136.8C456.8,136.6 458.0,136.7 458.9,136.8C459.7,136.8 460.5,136.9 461.4,137.0C462.2,137.1 461.0,137.4 463.9,137.5C466.8,137.6 476.3,137.7 478.8,137.8" fill="none" stroke="#0000ff" stroke-width="1.75" stroke-linejoin="round"/><path d="M80.0,140.8C80.4,140.7 81.4,140.4 82.3,140.5C83.3,140.5 84.5,141.1 85.6,141.1C86.7,141.2 87.9,140.8 89.0,140.8C90.1,140.8 91.2,141.3 92.3,141.1C93.4,141.0 94.5,140.1 95.6,140.0C96.7,139.9 97.8,140.3 98.9,140.5C100.0,140.6 101.1,140.7 102.2,140.8C103.3,140.9 104.5,141.0 105.6,141.1C106.7,141.3 107.8,141.5 108.9,141.6C110.0,141.7 111.2,141.5 112.2,141.6C113.2,141.8 113.9,142.5 114.7,142.5C115.5,142.5 116.2,141.9 117.2,141.6C118.1,141.4 119.4,141.3 120.5,141.1C121.6,140.9 122.9,140.7 123.8,140.5C124.8,140.3 125.5,139.9 126.3,140.0C127.1,140.0 127.8,140.5 128.8,140.8C129.8,141.1 131.0,141.4 132.1,141.6C133.2,141.9 134.3,142.0 135.4,142.1C136.5,142.3 137.7,142.3 138.8,142.5C139.9,142.6 141.0,142.7 142.1,142.8C143.2,142.9 144.3,143.2 145.4,143.1C146.5,143.1 147.6,142.8 148.7,142.5C149.8,142.1 151.2,141.2 152.0,140.8C152.9,140.4 153.1,139.7 153.7,140.0C154.3,140.2 154.7,141.4 155.4,142.5C156.1,143.6 157.2,145.4 157.9,146.6C158.5,147.8 158.4,149.2 159.0,149.4C159.6,149.7 160.7,148.3 161.5,148.3C162.3,148.2 163.2,148.7 164.0,149.1C164.8,149.5 165.6,150.0 166.5,150.4C167.3,150.8 168.1,151.7 169.0,151.6C169.8,151.5 170.6,150.5 171.5,149.9C172.3,149.4 173.1,148.7 173.9,148.3C174.8,147.9 175.6,147.6 176.4,147.4C177.3,147.3 178.1,147.7 178.9,147.4C179.8,147.2 180.6,146.2 181.4,145.8C182.2,145.4 183.1,145.3 183.9,144.9C184.7,144.6 185.7,144.2 186.4,143.8C187.1,143.4 187.5,142.4 188.1,142.5C188.6,142.5 189.2,143.6 189.7,144.1C190.3,144.7 190.8,145.2 191.4,145.8C191.9,146.3 192.5,147.3 193.0,147.4C193.6,147.6 194.1,146.9 194.7,146.6C195.2,146.3 195.8,146.1 196.4,145.8C196.9,145.5 197.5,144.9 198.0,144.9C198.6,144.9 199.1,145.4 199.7,145.8C200.2,146.1 200.8,146.8 201.3,147.1C201.9,147.4 202.5,147.1 203.0,147.4C203.5,147.8 203.7,149.0 204.2,149.1C204.6,149.2 205.0,148.7 205.5,148.3C206.0,147.9 206.6,147.0 207.1,146.6C207.7,146.2 208.1,146.1 208.8,145.8C209.5,145.5 210.5,145.2 211.3,144.9C212.1,144.7 213.0,144.3 213.8,144.1C214.6,143.9 215.4,143.9 216.3,143.8C217.1,143.6 217.9,143.2 218.8,143.3C219.6,143.3 220.4,143.8 221.3,144.1C222.1,144.4 223.0,144.7 223.7,144.9C224.4,145.2 224.8,145.7 225.4,145.8C226.0,145.9 226.5,145.6 227.1,145.4C227.6,145.3 228.2,144.8 228.7,144.9C229.3,145.1 229.8,145.8 230.4,146.6C230.9,147.4 231.5,148.8 232.0,149.9C232.6,151.0 233.1,152.1 233.7,153.2C234.3,154.4 234.8,155.5 235.4,156.6C235.9,157.6 236.5,158.6 237.0,159.4C237.6,160.2 238.3,161.1 238.7,161.5C239.0,162.0 238.7,162.3 239.2,162.1C239.7,161.8 240.8,160.5 241.7,160.0C242.7,159.5 243.8,159.3 244.8,158.9C245.9,158.6 247.1,158.4 248.0,157.9C248.9,157.4 249.4,156.3 250.1,155.8C250.8,155.3 251.5,155.5 252.2,154.8C252.9,154.1 253.6,152.5 254.3,151.6C254.9,150.8 255.6,150.2 256.3,149.5C257.0,148.8 257.7,148.1 258.4,147.4C259.1,146.7 259.8,145.9 260.5,145.4C261.2,144.8 261.9,144.7 262.6,144.3C263.3,144.0 264.0,143.7 264.7,143.3C265.4,142.8 266.1,142.0 266.8,141.6C267.5,141.2 268.2,141.2 268.9,140.8C269.6,140.3 270.3,139.6 271.0,139.1C271.7,138.6 266.2,138.0 273.1,137.7C280.0,137.5 305.6,137.4 312.4,137.8C319.2,138.1 313.4,138.6 314.0,139.6C314.6,140.6 315.3,142.6 316.0,144.0C316.7,145.4 317.3,147.0 318.0,148.0C318.7,149.0 319.3,149.5 320.0,150.0C320.7,150.5 321.3,150.8 322.0,151.0C322.7,151.2 323.3,150.8 324.0,151.0C324.7,151.2 325.3,152.4 326.0,152.4C326.7,152.4 327.3,151.1 328.0,151.0C328.7,150.9 329.3,151.9 330.0,152.0C330.7,152.1 331.3,151.9 332.0,151.6C332.7,151.3 333.3,150.1 334.0,150.4C334.7,150.7 335.3,152.5 336.0,153.6C336.7,154.7 337.3,156.3 338.0,157.0C338.7,157.7 339.3,157.8 340.0,158.0C340.7,158.2 341.3,158.2 342.0,158.4C342.7,158.6 343.3,158.8 344.0,159.0C344.7,159.2 345.3,159.4 346.0,159.6C346.7,159.8 347.3,160.3 348.0,160.0C348.7,159.7 349.3,158.7 350.0,158.0C350.7,157.3 351.3,156.7 352.0,156.0C352.7,155.3 353.3,154.7 354.0,154.0C354.7,153.3 355.3,152.5 356.0,152.0C356.7,151.5 357.3,151.3 358.0,151.0C358.7,150.7 359.3,149.8 360.0,150.0C360.7,150.2 361.3,151.4 362.0,152.4C362.7,153.4 363.3,154.7 364.0,156.0C364.7,157.3 365.3,158.7 366.0,160.0C366.7,161.3 367.3,162.7 368.0,164.0C368.7,165.3 369.3,167.2 370.0,168.0C370.7,168.8 371.4,168.1 372.0,169.0C372.6,169.9 373.1,173.1 373.6,173.5C374.1,173.9 374.6,173.8 375.0,171.5C375.4,169.2 375.5,162.2 376.0,160.0C376.5,157.8 377.3,158.7 378.0,158.0C378.7,157.3 379.3,156.5 380.0,156.0C380.7,155.5 381.3,155.3 382.0,155.0C382.7,154.7 383.3,154.4 384.0,154.0C384.7,153.6 385.3,152.9 386.0,152.4C386.7,151.9 387.3,151.4 388.0,151.0C388.7,150.6 389.3,149.8 390.0,150.0C390.7,150.2 391.3,151.0 392.0,152.0C392.7,153.0 393.3,154.7 394.0,156.0C394.7,157.3 395.3,159.0 396.0,160.0C396.7,161.0 397.3,161.8 398.0,162.0C398.7,162.2 399.3,161.7 400.0,161.0C400.7,160.3 401.3,159.3 402.0,158.0C402.7,156.7 403.3,154.7 404.0,153.0C404.7,151.3 405.3,149.5 406.0,148.0C406.7,146.5 407.3,145.0 408.0,144.0C408.7,143.0 409.3,142.5 410.0,142.0C410.7,141.5 411.3,141.3 412.0,141.0C412.7,140.7 413.3,140.6 414.0,140.4C414.7,140.2 415.3,139.9 416.0,140.0C416.7,140.1 417.3,140.7 418.0,141.0C418.7,141.3 419.3,141.9 420.0,142.0C420.7,142.1 421.3,141.6 422.0,141.6C422.7,141.6 423.3,142.1 424.0,142.0C424.7,141.9 425.3,141.3 426.0,141.0C426.7,140.7 427.3,140.6 428.0,140.4C428.7,140.2 429.3,139.9 430.0,140.0C430.7,140.1 431.3,140.7 432.0,141.0C432.7,141.3 433.3,141.8 434.0,142.0C434.7,142.2 435.3,142.1 436.0,142.0C436.7,141.9 437.3,141.8 438.0,141.6C438.7,141.4 439.3,141.2 440.0,141.0C440.7,140.8 441.3,140.6 442.0,140.4C442.7,140.2 443.3,140.0 444.0,140.0C444.7,140.0 445.3,140.4 446.0,140.4C446.7,140.4 447.3,140.1 448.0,140.0C448.7,139.9 449.3,139.8 450.0,139.6C450.7,139.4 451.3,139.2 452.0,139.0C452.7,138.8 453.3,138.6 454.0,138.4C454.7,138.2 455.6,137.9 456.0,138.0C456.4,138.1 455.9,138.6 456.3,138.7C456.8,138.9 458.0,138.8 458.9,138.7C459.7,138.7 460.5,138.6 461.4,138.5C462.2,138.4 461.0,138.1 463.9,138.0C466.8,137.9 476.3,137.8 478.8,137.8" fill="none" stroke="#0000ff" stroke-width="1.75" stroke-linejoin="round"/></g><g clip-path="url(#cb)"><path d="M79.2,366.9 L81.2,363.6 L82.3,354.9 L84.5,350.5 L86.6,348.4 L87.7,345.1 L89.5,347.3 L91.0,342.9 L93.2,339.6 L94.7,336.4 L96.5,341.8 L98.6,352.7 L100.8,363.6 L102.6,376.7 L103.1,350.4 L104.4,337.8 L105.6,317.8 L106.9,285.1 L108.1,270.1 L109.4,263.8 L110.6,260.0 L112.6,266.3 L114.4,262.5 L116.2,260.0 L118.2,262.5 L119.4,270.1 L120.7,282.6 L121.9,295.2 L123.2,307.7 L124.4,320.3 L125.7,335.3 L126.9,345.4 L128.2,341.6 L129.5,337.8 L130.7,332.8 L132.7,325.3 L134.5,317.8 L136.2,305.2 L138.2,292.7 L140.0,284.0 L142.0,286.0 L144.0,298.0 L146.0,308.0 L148.0,312.0 L150.0,324.0 L152.0,338.0 L153.0,341.0 L154.4,334.0 L155.6,308.0 L157.0,278.0 L158.0,266.0 L159.0,270.0 L160.0,294.0 L161.0,296.0 L162.0,288.0 L163.0,283.0 L164.0,290.0 L165.0,310.0 L166.0,326.0 L167.0,332.0 L168.0,338.0 L170.0,340.0 L172.0,344.0 L173.6,352.0 L175.0,350.0 L176.0,328.0 L177.6,308.0 L179.0,318.0 L181.0,306.0 L182.4,288.0 L184.0,277.0 L185.6,284.0 L187.0,298.0 L188.4,318.0 L190.0,336.0 L191.6,340.0 L193.0,328.0 L194.4,318.0 L195.6,324.0 L197.0,334.0 L198.4,342.0 L200.0,338.0 L201.6,338.0 L203.6,342.0 L206.0,344.0 L208.0,346.0 L209.0,342.0 L210.0,316.0 L211.0,295.0 L212.0,296.0 L213.0,308.0 L214.0,322.0 L215.0,326.0 L217.0,316.0 L219.0,310.0 L221.0,307.0 L222.4,306.0 L223.6,310.0 L225.0,318.0 L226.4,330.0 L227.6,338.0 L229.0,344.0 L230.0,346.0 L230.7,341.6 L232.7,336.6 L234.5,345.4 L236.2,355.4 L237.7,362.9 L239.5,350.4 L241.3,330.3 L242.8,317.8 L244.3,314.0 L245.8,320.3 L247.8,335.3 L249.5,337.8 L251.3,329.0 L252.8,326.5 L254.6,335.3 L256.3,342.9 L258.3,341.6 L260.3,341.6 L262.1,345.4 L263.8,345.4 L265.9,337.8 L267.9,335.3 L270.4,331.6 L272.1,332.8 L273.4,340.3 L275.4,349.1 L277.1,354.1 L280.5,354.1 L283.0,350.4 L285.5,331.6 L287.5,350.4 L289.3,370.5 L290.6,380.3 L325.7,380.3 L326.0,380.4 L327.0,370.0 L328.0,362.0 L330.0,352.0 L332.0,344.0 L333.6,342.4 L335.0,346.0 L337.0,354.0 L339.0,360.0 L341.0,363.0 L342.4,358.0 L344.0,344.0 L345.6,339.0 L347.0,340.0 L349.0,336.0 L351.0,330.0 L353.0,328.0 L355.0,324.0 L356.4,326.0 L358.0,332.0 L360.0,338.0 L362.0,344.0 L363.6,346.0 L365.0,338.0 L366.4,324.0 L368.0,312.0 L369.0,310.0 L370.0,314.0 L371.6,326.0 L373.0,334.0 L374.4,326.0 L375.6,310.0 L377.0,296.0 L378.0,292.0 L379.0,296.0 L380.0,304.0 L381.0,312.0 L382.0,310.0 L382.3,295.2 L383.6,282.6 L385.3,273.1 L386.8,285.1 L388.1,305.2 L389.8,335.3 L391.6,352.9 L393.6,357.9 L395.6,355.4 L397.4,345.4 L398.6,320.3 L400.1,302.7 L401.4,291.4 L402.6,300.2 L403.6,325.3 L404.9,360.4 L406.1,373.0 L407.4,380.3 L478.8,380.4 L478.8,380.4 L407.4,380.3 L406.1,383.8 L404.9,395.1 L403.6,420.2 L402.4,452.8 L401.1,470.4 L399.9,457.9 L398.1,432.8 L396.1,412.7 L394.1,401.4 L392.3,400.1 L390.6,410.2 L388.6,445.3 L386.8,475.4 L385.6,489.2 L384.8,483.0 L383.0,465.4 L382.0,451.0 L381.0,455.0 L379.0,463.0 L377.6,469.0 L376.0,459.0 L374.4,449.0 L373.0,439.0 L371.6,431.0 L370.0,433.0 L368.4,443.0 L367.0,450.0 L365.6,443.0 L364.0,431.0 L362.4,421.0 L361.0,425.0 L359.0,429.0 L357.6,433.0 L356.0,437.0 L354.4,435.0 L353.0,429.0 L351.0,431.0 L349.0,429.0 L347.0,425.0 L345.6,421.0 L344.0,417.0 L342.4,409.0 L341.0,399.0 L340.0,398.0 L338.0,403.0 L336.0,409.0 L334.4,415.0 L333.0,418.0 L331.0,413.0 L329.0,403.0 L327.0,391.0 L325.0,380.4 L290.6,380.3 L290.0,382.6 L288.5,392.6 L286.8,410.2 L285.0,429.0 L283.0,415.2 L280.5,407.7 L277.1,410.2 L275.4,412.7 L273.4,420.2 L271.4,430.2 L269.6,425.2 L267.9,420.2 L265.9,415.2 L263.8,417.7 L262.1,422.7 L260.3,420.2 L258.3,417.7 L256.3,420.2 L254.6,427.7 L252.8,435.3 L250.8,427.7 L248.8,422.7 L247.0,425.2 L245.3,437.8 L243.8,445.3 L242.0,435.3 L240.2,420.2 L238.2,407.7 L236.2,405.1 L234.5,410.2 L232.7,420.2 L231.2,422.7 L229.5,417.7 L227.7,415.2 L225.7,425.2 L223.7,442.8 L221.9,454.1 L220.2,450.3 L218.2,445.3 L216.2,440.3 L214.4,432.8 L212.6,447.8 L211.1,465.4 L209.4,452.8 L207.6,435.3 L205.6,422.7 L203.6,417.7 L201.8,420.2 L200.1,422.7 L198.1,420.2 L196.1,430.2 L194.3,440.3 L192.6,422.7 L190.6,417.7 L188.5,435.3 L186.8,455.3 L185.0,475.4 L183.5,484.2 L181.8,475.4 L180.0,457.9 L178.0,450.3 L177.1,452.8 L175.9,440.3 L174.6,430.2 L172.9,420.2 L170.9,417.7 L168.9,420.2 L167.1,425.2 L165.9,437.8 L164.6,460.4 L163.3,475.4 L162.1,470.4 L160.8,460.4 L159.6,480.4 L158.3,490.5 L157.1,477.9 L155.8,452.8 L154.6,432.8 L152.8,420.2 L150.8,430.2 L148.8,435.3 L147.0,440.3 L145.3,445.3 L143.8,452.8 L142.0,465.4 L140.2,475.4 L138.2,470.4 L136.2,460.4 L134.5,450.3 L132.7,442.8 L130.7,435.3 L129.5,422.7 L128.2,417.7 L126.9,415.2 L125.7,420.2 L124.4,435.3 L123.2,450.3 L121.9,462.9 L120.7,475.4 L119.4,490.5 L118.2,496.8 L115.7,501.8 L113.1,501.8 L111.1,493.0 L109.4,501.8 L108.1,490.5 L106.9,475.4 L105.6,445.3 L104.4,420.2 L103.1,402.6 L102.6,385.5 L100.8,396.4 L98.6,407.3 L96.5,416.0 L94.7,424.7 L93.2,422.6 L91.0,419.3 L88.8,418.2 L86.6,416.0 L84.5,411.6 L82.3,402.9 L81.2,396.4 L79.2,392.0 Z" fill="#d3d3d3" stroke="none"/><path d="M80.0,377.2C80.2,376.7 80.6,375.3 81.2,374.5C81.7,373.7 82.6,372.8 83.4,372.4C84.1,371.9 84.8,371.9 85.5,371.9C86.3,371.9 87.0,372.5 87.7,372.4C88.5,372.3 89.2,371.6 89.9,371.3C90.6,370.9 91.4,370.4 92.1,370.2C92.8,369.9 93.6,370.0 94.3,369.7C94.9,369.5 95.5,368.0 96.0,368.4C96.6,368.9 96.9,371.0 97.5,372.4C98.2,373.7 99.0,375.6 99.7,376.7C100.5,377.8 101.2,378.7 101.9,378.9C102.6,379.1 103.5,379.3 104.1,377.8C104.6,376.4 104.7,373.3 105.2,370.2C105.7,367.1 106.4,362.2 106.9,359.3C107.5,356.4 107.8,353.5 108.5,352.7C109.1,352.0 109.9,353.5 110.6,354.9C111.4,356.4 112.3,360.1 112.8,361.5C113.4,362.8 113.3,362.5 113.9,363.2C114.4,363.9 115.5,365.0 116.4,365.7C117.2,366.4 118.0,366.8 118.8,367.4C119.7,367.9 120.5,368.4 121.3,369.0C122.2,369.6 123.0,370.5 123.8,371.2C124.7,371.9 125.6,372.5 126.3,373.2C127.0,373.8 127.4,374.7 128.0,375.2C128.5,375.7 129.1,376.3 129.6,376.1C130.2,376.0 130.6,375.1 131.3,374.5C132.0,373.9 133.0,373.0 133.8,372.3C134.6,371.7 135.4,371.3 136.3,370.7C137.1,370.0 137.9,369.2 138.8,368.5C139.6,367.8 140.6,367.1 141.3,366.5C141.9,365.9 142.4,365.0 142.9,364.9C143.5,364.7 143.9,365.1 144.6,365.7C145.3,366.2 146.2,367.5 147.1,368.2C147.9,368.9 148.7,369.3 149.6,369.8C150.4,370.4 151.3,371.1 152.0,371.5C152.7,371.9 153.1,373.7 153.7,372.3C154.3,370.9 154.8,366.4 155.4,363.2C155.9,360.0 156.5,355.7 157.0,353.2C157.5,350.8 158.0,349.0 158.3,348.3C158.7,347.6 158.6,348.4 159.0,349.1C159.4,349.8 160.1,351.4 160.7,352.4C161.2,353.4 161.8,353.7 162.3,354.9C162.9,356.1 163.4,358.2 164.0,359.9C164.5,361.5 165.1,363.6 165.6,364.9C166.2,366.1 166.7,366.8 167.3,367.4C167.9,367.9 168.4,367.8 169.0,368.2C169.5,368.6 170.1,369.1 170.6,369.8C171.2,370.5 171.7,372.3 172.3,372.3C172.8,372.3 173.4,371.4 173.9,369.8C174.5,368.3 175.0,365.3 175.6,363.2C176.2,361.1 176.7,358.5 177.3,357.4C177.8,356.3 178.4,356.1 178.9,356.6C179.5,357.0 180.0,360.7 180.6,359.9C181.1,359.1 181.7,354.1 182.2,351.6C182.8,349.1 183.4,346.2 183.9,344.9C184.4,343.7 184.8,343.6 185.2,344.1C185.6,344.7 186.0,346.2 186.4,348.3C186.8,350.3 187.1,353.8 187.6,356.6C188.0,359.3 188.4,362.9 188.9,364.9C189.4,366.8 190.0,368.0 190.5,368.2C191.1,368.3 191.6,366.7 192.2,365.7C192.8,364.7 193.3,362.6 193.9,362.4C194.4,362.1 195.0,363.2 195.5,364.0C196.1,364.9 196.6,366.7 197.2,367.4C197.7,368.0 198.3,368.2 198.8,368.2C199.4,368.2 199.9,367.6 200.5,367.4C201.1,367.1 201.6,366.7 202.2,366.9C202.7,367.0 203.3,367.8 203.8,368.2C204.4,368.5 204.9,369.1 205.5,369.0C206.0,368.9 206.6,369.1 207.1,367.4C207.7,365.6 208.2,361.1 208.8,358.2C209.4,355.3 210.0,351.6 210.5,349.9C211.0,348.3 211.4,347.8 211.8,348.3C212.2,348.7 212.5,350.6 213.0,352.4C213.4,354.2 214.1,357.7 214.6,359.1C215.2,360.4 215.7,360.7 216.3,360.7C216.8,360.7 217.2,359.7 217.9,359.1C218.6,358.4 219.6,357.2 220.4,356.9C221.3,356.6 222.2,356.9 222.9,357.4C223.6,357.9 224.0,359.1 224.6,359.9C225.1,360.7 225.7,361.5 226.2,362.4C226.8,363.2 227.3,364.4 227.9,364.9C228.4,365.3 228.9,365.3 229.6,364.9C230.2,364.4 231.3,362.4 232.0,362.4C232.7,362.4 233.1,363.5 233.7,364.9C234.3,366.2 234.8,368.9 235.4,370.7C235.9,372.5 236.5,375.0 237.0,375.7C237.6,376.3 238.0,375.8 238.7,374.8C239.3,373.9 240.5,370.5 241.0,369.8C241.6,369.2 241.4,370.7 242.0,371.0C242.6,371.3 243.7,371.7 244.5,371.7C245.4,371.7 246.0,371.0 247.0,371.0C248.1,371.0 249.5,371.4 250.8,371.7C252.0,372.1 253.3,373.0 254.6,373.0C255.8,373.0 257.1,371.7 258.3,371.7C259.6,371.7 260.8,372.8 262.1,373.0C263.3,373.1 264.6,372.7 265.9,372.5C267.1,372.3 268.4,371.6 269.6,371.7C270.9,371.8 272.1,372.8 273.4,373.0C274.6,373.1 276.4,372.5 277.1,372.5C277.9,372.5 277.4,372.7 278.0,373.0C278.6,373.3 279.7,374.6 280.5,374.2C281.3,373.8 282.2,372.6 283.0,370.5C283.9,368.4 284.8,361.7 285.5,361.7C286.3,361.7 286.9,367.7 287.5,370.5C288.2,373.2 288.8,376.4 289.3,378.0C289.8,379.6 284.5,379.9 290.6,380.3C296.6,380.6 319.8,380.2 325.7,380.3C331.6,380.3 325.6,380.6 326.0,380.4C326.4,380.2 327.2,379.4 328.0,379.0C328.8,378.6 330.0,378.2 331.0,378.0C332.0,377.8 333.0,377.8 334.0,377.6C335.0,377.4 336.0,377.2 337.0,377.0C338.0,376.8 339.0,376.6 340.0,376.4C341.0,376.2 342.0,376.1 343.0,376.0C344.0,375.9 345.0,375.8 346.0,375.6C347.0,375.4 348.0,375.2 349.0,375.0C350.0,374.8 351.0,374.6 352.0,374.4C353.0,374.2 354.0,374.0 355.0,374.0C356.0,374.0 357.2,374.2 358.0,374.4C358.8,374.6 359.3,375.1 360.0,375.0C360.7,374.9 361.3,374.4 362.0,374.0C362.7,373.6 363.3,372.9 364.0,372.4C364.7,371.9 365.3,371.1 366.0,371.0C366.7,370.9 367.3,371.1 368.0,371.6C368.7,372.1 369.3,373.7 370.0,374.0C370.7,374.3 371.3,374.1 372.0,373.6C372.7,373.1 373.3,371.8 374.0,371.0C374.7,370.2 375.3,369.5 376.0,369.0C376.7,368.5 377.3,368.0 378.0,368.0C378.7,368.0 379.3,368.7 380.0,369.0C380.7,369.3 381.5,370.4 382.0,370.0C382.5,369.6 382.6,367.0 383.0,366.7C383.5,366.4 384.2,367.1 384.8,368.0C385.4,368.8 385.9,370.7 386.6,371.7C387.2,372.8 387.8,373.7 388.6,374.2C389.3,374.8 390.2,375.0 391.1,375.0C391.9,375.0 392.8,374.6 393.6,374.2C394.4,373.9 395.3,373.4 396.1,373.0C396.9,372.6 397.8,372.1 398.6,371.7C399.4,371.3 400.4,370.5 401.1,370.5C401.9,370.5 402.5,370.9 403.1,371.7C403.8,372.6 404.4,374.4 404.9,375.5C405.4,376.6 405.7,377.7 406.1,378.5C406.6,379.3 395.3,379.9 407.4,380.3C419.5,380.6 466.9,380.4 478.8,380.4" fill="none" stroke="#ff8000" stroke-width="1.75" stroke-linejoin="round"/><path d="M80.0,384.4C80.2,384.7 80.6,385.8 81.2,386.6C81.7,387.3 82.6,388.3 83.4,388.7C84.1,389.2 84.8,389.1 85.5,389.4C86.3,389.6 87.0,390.3 87.7,390.3C88.5,390.3 89.2,389.5 89.9,389.4C90.6,389.3 91.4,389.4 92.1,389.8C92.8,390.3 93.6,391.8 94.3,392.0C94.9,392.2 95.5,391.6 96.0,390.9C96.6,390.2 96.9,388.7 97.5,387.6C98.2,386.6 99.0,385.4 99.7,384.4C100.5,383.4 101.2,381.7 101.9,381.5C102.6,381.3 103.5,381.9 104.1,383.3C104.6,384.7 104.7,386.9 105.2,389.8C105.7,392.7 106.4,397.6 106.9,400.7C107.5,403.8 107.8,407.5 108.5,408.4C109.1,409.3 109.9,407.5 110.6,406.2C111.4,404.9 112.3,402.1 112.8,400.7C113.4,399.4 113.3,398.9 113.9,398.1C114.4,397.2 115.5,396.3 116.4,395.6C117.2,394.9 118.0,394.5 118.8,393.9C119.7,393.3 120.5,392.4 121.3,391.8C122.2,391.1 123.0,390.5 123.8,389.8C124.7,389.0 125.6,388.0 126.3,387.3C127.0,386.6 127.4,386.0 128.0,385.6C128.5,385.2 129.1,384.6 129.6,384.8C130.2,384.9 130.6,385.6 131.3,386.4C132.0,387.3 133.0,388.8 133.8,389.8C134.6,390.7 135.4,391.6 136.3,392.3C137.1,392.9 137.9,393.4 138.8,393.9C139.6,394.5 140.6,395.2 141.3,395.6C141.9,396.0 142.4,396.5 142.9,396.4C143.5,396.3 143.9,395.3 144.6,394.7C145.3,394.1 146.2,393.3 147.1,392.7C147.9,392.2 148.7,391.9 149.6,391.4C150.4,390.9 151.3,390.2 152.0,389.8C152.7,389.3 153.1,387.8 153.7,388.9C154.3,390.0 154.8,393.5 155.4,396.4C155.9,399.3 156.5,403.9 157.0,406.4C157.6,408.9 158.4,410.5 158.7,411.3C159.0,412.2 158.7,411.9 159.0,411.3C159.3,410.8 160.1,409.1 160.7,408.0C161.2,406.9 161.8,406.1 162.3,404.7C162.9,403.3 163.4,401.4 164.0,399.7C164.5,398.1 165.1,395.8 165.6,394.7C166.2,393.6 166.7,393.5 167.3,393.1C167.9,392.7 168.4,392.5 169.0,392.3C169.5,392.0 170.1,392.0 170.6,391.4C171.2,390.9 171.7,389.5 172.3,388.9C172.8,388.4 173.4,387.4 173.9,388.1C174.5,388.8 175.0,391.1 175.6,393.1C176.2,395.0 176.7,398.1 177.3,399.7C177.8,401.4 178.4,402.8 178.9,403.0C179.5,403.3 180.0,400.3 180.6,401.4C181.1,402.5 181.7,407.2 182.2,409.7C182.8,412.2 183.4,415.1 183.9,416.3C184.4,417.6 184.8,417.7 185.2,417.2C185.6,416.6 186.0,415.1 186.4,413.0C186.8,410.9 187.1,407.5 187.6,404.7C188.0,401.9 188.4,398.6 188.9,396.4C189.4,394.2 190.0,391.8 190.5,391.4C191.1,391.0 191.6,392.9 192.2,393.9C192.8,394.9 193.3,397.0 193.9,397.2C194.4,397.5 195.0,396.3 195.5,395.6C196.1,394.9 196.6,393.6 197.2,393.1C197.7,392.5 198.3,392.3 198.8,392.3C199.4,392.3 199.9,392.8 200.5,393.1C201.1,393.4 201.6,394.0 202.2,393.9C202.7,393.8 203.3,392.6 203.8,392.3C204.4,391.9 204.9,391.5 205.5,391.8C206.0,392.0 206.6,392.3 207.1,393.9C207.7,395.5 208.2,398.8 208.8,401.4C209.4,404.0 210.0,407.9 210.5,409.7C211.0,411.5 211.4,412.4 211.8,412.2C212.2,411.9 212.5,409.8 213.0,408.0C213.4,406.2 214.1,402.8 214.6,401.4C215.2,400.0 215.7,399.7 216.3,399.7C216.8,399.7 217.2,400.7 217.9,401.4C218.6,402.1 219.6,403.6 220.4,403.9C221.3,404.1 222.2,403.6 222.9,403.0C223.6,402.5 224.0,401.4 224.6,400.6C225.1,399.7 225.7,398.9 226.2,398.1C226.8,397.2 227.3,396.1 227.9,395.6C228.4,395.0 228.9,394.5 229.6,394.7C230.2,395.0 231.3,397.1 232.0,397.2C232.7,397.4 233.1,396.8 233.7,395.6C234.3,394.3 234.8,391.6 235.4,389.8C235.9,388.0 236.5,385.5 237.0,384.8C237.6,384.1 238.0,384.8 238.7,385.6C239.3,386.4 240.0,389.2 241.0,389.8C242.0,390.3 243.3,389.1 244.5,388.8C245.7,388.5 246.8,388.1 248.3,388.1C249.7,388.1 251.6,388.9 253.3,388.8C255.0,388.7 256.6,387.6 258.3,387.6C260.0,387.6 261.7,388.7 263.3,388.8C265.0,388.9 266.7,388.1 268.4,388.1C270.0,388.1 271.8,388.9 273.4,388.8C275.0,388.7 276.8,387.7 278.0,387.6C279.2,387.4 279.7,387.4 280.5,388.1C281.3,388.7 282.3,389.7 283.0,391.3C283.8,392.9 284.4,397.8 285.0,397.6C285.7,397.4 286.2,392.4 286.8,390.1C287.4,387.8 287.9,385.4 288.5,383.8C289.2,382.2 284.5,380.9 290.6,380.3C296.6,379.7 318.8,380.0 325.0,380.4C331.2,380.8 326.8,382.1 328.0,382.6C329.2,383.1 330.7,383.2 332.0,383.4C333.3,383.6 334.7,383.8 336.0,384.0C337.3,384.2 338.7,384.4 340.0,384.6C341.3,384.8 342.7,384.9 344.0,385.0C345.3,385.1 346.7,385.2 348.0,385.4C349.3,385.6 350.7,385.8 352.0,386.0C353.3,386.2 354.7,386.4 356.0,386.6C357.3,386.8 359.0,387.4 360.0,387.4C361.0,387.4 361.3,386.7 362.0,386.6C362.7,386.5 363.3,386.8 364.0,387.0C364.7,387.2 365.2,387.7 366.0,388.0C366.8,388.3 368.0,388.7 369.0,389.0C370.0,389.3 371.0,389.7 372.0,390.0C373.0,390.3 374.0,390.5 375.0,391.0C376.0,391.5 377.2,392.8 378.0,393.0C378.8,393.2 379.3,392.3 380.0,392.0C380.7,391.7 381.4,390.5 382.0,391.0C382.6,391.5 383.0,394.6 383.6,395.1C384.1,395.6 384.9,394.7 385.6,393.8C386.2,393.0 386.6,391.1 387.3,390.1C388.0,389.0 389.0,388.2 389.8,387.6C390.7,386.9 391.5,386.7 392.3,386.3C393.2,385.9 394.0,385.2 394.8,385.1C395.7,384.9 396.5,385.1 397.4,385.6C398.2,386.0 399.2,387.0 399.9,387.6C400.6,388.1 401.0,389.0 401.6,388.8C402.2,388.6 403.0,387.4 403.6,386.3C404.3,385.3 405.0,383.6 405.6,382.6C406.3,381.5 395.2,380.6 407.4,380.3C419.6,379.9 466.9,380.4 478.8,380.4" fill="none" stroke="#ff8000" stroke-width="1.75" stroke-linejoin="round"/><path d="M80.0,376.3C80.2,376.2 80.6,376.1 81.2,375.6C81.7,375.2 82.6,374.0 83.4,373.5C84.1,372.9 84.9,372.2 85.5,372.4C86.2,372.5 86.7,374.6 87.3,374.5C87.8,374.5 88.2,372.1 88.8,371.9C89.4,371.7 90.3,373.7 91.0,373.5C91.7,373.2 92.5,371.2 93.2,370.6C93.9,370.0 94.6,369.5 95.4,369.7C96.1,370.0 96.8,371.3 97.5,372.4C98.3,373.5 99.0,375.2 99.7,376.3C100.5,377.4 101.2,378.3 101.9,378.9C102.6,379.5 103.4,380.4 104.1,380.0C104.8,379.6 105.5,379.1 106.3,376.7C107.0,374.4 107.7,369.8 108.5,365.8C109.2,361.8 110.2,356.5 110.6,352.7C111.1,349.0 111.0,346.0 111.4,343.3C111.8,340.6 112.6,339.1 113.0,336.6C113.5,334.2 113.8,332.3 114.2,328.3C114.6,324.4 115.1,316.0 115.7,312.7C116.2,309.5 116.9,308.8 117.4,309.0C117.9,309.2 118.2,311.3 118.7,314.0C119.1,316.7 119.7,322.9 120.2,325.3C120.6,327.7 120.9,326.2 121.3,328.3C121.8,330.5 122.4,334.7 123.0,338.3C123.5,341.9 124.1,346.3 124.7,349.9C125.2,353.5 125.8,356.8 126.3,359.9C126.9,362.9 127.4,366.5 128.0,368.2C128.5,369.8 129.1,370.3 129.6,369.8C130.2,369.4 130.7,366.9 131.3,365.7C131.8,364.4 132.4,363.2 133.0,362.4C133.5,361.5 134.1,361.7 134.6,360.7C135.2,359.7 135.7,358.1 136.3,356.6C136.8,355.0 137.4,353.0 137.9,351.6C138.5,350.2 139.0,348.7 139.6,348.3C140.1,347.8 140.7,348.3 141.3,349.1C141.8,349.9 142.4,351.9 142.9,353.2C143.5,354.6 144.0,356.1 144.6,357.4C145.1,358.6 145.7,359.7 146.2,360.7C146.8,361.7 147.3,362.5 147.9,363.2C148.4,363.9 149.0,364.0 149.6,364.9C150.1,365.7 150.7,367.1 151.2,368.2C151.8,369.3 152.3,370.4 152.9,371.5C153.4,372.6 154.0,374.0 154.5,374.8C155.1,375.7 155.6,376.1 156.2,376.5C156.7,376.9 157.4,379.5 157.9,377.3C158.3,375.1 158.5,364.3 159.0,363.2C159.5,362.1 160.1,368.9 160.7,370.7C161.2,372.5 161.8,373.2 162.3,374.0C162.9,374.7 163.3,374.9 164.0,375.2C164.7,375.4 165.6,375.6 166.5,375.7C167.3,375.7 168.1,375.6 169.0,375.7C169.8,375.7 170.6,376.0 171.5,376.1C172.3,376.3 173.2,376.9 173.9,376.8C174.6,376.7 175.0,376.0 175.6,375.7C176.2,375.3 176.7,374.8 177.3,374.8C177.8,374.8 178.2,375.7 178.9,375.7C179.6,375.7 180.6,375.2 181.4,374.8C182.2,374.5 183.2,373.8 183.9,373.5C184.6,373.2 185.0,373.0 185.6,373.2C186.1,373.3 186.7,374.0 187.2,374.5C187.8,375.0 188.2,375.7 188.9,376.1C189.6,376.6 190.5,377.0 191.4,377.3C192.2,377.6 192.9,377.9 193.9,378.1C194.8,378.3 196.1,378.4 197.2,378.5C198.3,378.5 199.4,378.5 200.5,378.5C201.6,378.5 202.7,378.5 203.8,378.5C204.9,378.4 206.0,378.4 207.1,378.1C208.2,377.9 209.4,377.2 210.5,376.8C211.6,376.4 212.7,376.2 213.8,375.7C214.9,375.1 216.0,374.2 217.1,373.5C218.2,372.8 219.6,372.0 220.4,371.5C221.3,371.0 221.5,370.4 222.1,370.7C222.6,370.9 223.2,372.3 223.7,373.2C224.3,374.0 224.8,375.0 225.4,375.7C226.0,376.3 226.4,376.8 227.1,377.3C227.8,377.8 228.7,378.1 229.6,378.5C230.4,378.8 231.1,379.2 232.0,379.5C233.0,379.7 234.3,379.7 235.4,379.8C236.5,379.9 237.7,379.8 238.7,379.8C239.6,379.8 234.5,379.8 241.0,379.8C247.6,379.8 269.7,379.7 278.0,379.7C286.3,379.8 282.6,380.2 290.6,380.3C298.5,380.3 319.4,380.3 325.7,380.3C332.0,380.2 320.6,379.8 328.2,379.7C335.8,379.7 359.7,379.7 371.0,379.7C382.3,379.7 391.3,379.9 396.1,379.7C400.9,379.6 398.8,379.2 399.9,379.0C400.9,378.8 401.5,378.4 402.4,378.5C403.2,378.6 404.0,379.2 404.9,379.5C405.7,379.8 395.1,380.1 407.4,380.3C419.7,380.4 466.9,380.4 478.8,380.4" fill="none" stroke="#00ff00" stroke-width="1.75" stroke-linejoin="round"/><path d="M80.0,383.3C80.2,383.5 80.6,383.8 81.2,384.4C81.7,384.9 82.6,386.4 83.4,386.6C84.1,386.7 84.9,385.9 85.5,385.5C86.2,385.0 86.7,383.5 87.3,383.7C87.8,383.9 88.2,386.3 88.8,386.6C89.4,386.8 90.3,384.9 91.0,385.5C91.7,386.0 92.5,388.9 93.2,389.8C93.9,390.7 94.6,391.3 95.4,390.9C96.1,390.6 96.8,388.7 97.5,387.6C98.3,386.6 99.0,385.4 99.7,384.4C100.5,383.4 101.2,382.1 101.9,381.5C102.6,380.9 103.4,380.0 104.1,380.7C104.8,381.3 105.5,382.8 106.3,385.5C107.0,388.1 107.7,392.0 108.5,396.4C109.2,400.7 110.2,407.5 110.6,411.6C111.1,415.8 110.8,417.5 111.4,421.3C111.9,425.1 113.2,430.7 113.9,434.6C114.6,438.5 114.9,441.8 115.5,444.5C116.1,447.3 116.7,450.9 117.3,451.0C117.9,451.2 118.4,447.4 118.9,445.4C119.5,443.4 120.1,441.4 120.6,438.9C121.1,436.4 121.6,433.3 122.2,430.6C122.7,427.9 123.4,425.5 123.9,422.5C124.5,419.4 125.0,416.1 125.5,412.5C126.0,408.9 126.6,404.5 127.1,401.0C127.7,397.6 128.3,393.3 128.8,392.1C129.4,390.9 129.9,392.6 130.4,393.7C130.9,394.9 131.3,397.8 132.0,398.7C132.7,399.7 133.7,398.4 134.5,399.4C135.3,400.3 136.2,402.2 137.0,404.4C137.8,406.6 138.6,411.9 139.4,412.5C140.2,413.1 141.1,409.2 141.9,407.7C142.7,406.2 143.4,405.1 144.3,403.5C145.2,401.9 146.2,399.7 147.1,398.1C147.9,396.5 148.7,395.3 149.6,393.9C150.4,392.5 151.2,391.0 152.0,389.8C152.9,388.5 153.7,387.5 154.5,386.4C155.4,385.3 156.3,381.2 157.0,383.1C157.8,385.1 158.4,396.8 159.0,398.1C159.6,399.3 160.1,392.5 160.7,390.6C161.2,388.7 161.8,387.4 162.3,386.4C162.9,385.5 163.3,385.4 164.0,385.1C164.7,384.8 165.6,384.9 166.5,384.8C167.3,384.7 168.1,384.6 169.0,384.4C169.8,384.3 170.6,384.1 171.5,384.0C172.3,383.8 173.2,383.3 173.9,383.5C174.6,383.6 175.0,384.4 175.6,384.8C176.2,385.1 176.6,385.6 177.3,385.6C178.0,385.7 179.1,385.0 179.8,385.1C180.4,385.2 180.7,385.7 181.4,386.1C182.1,386.5 183.1,387.2 183.9,387.3C184.7,387.3 185.6,386.9 186.4,386.4C187.2,386.0 188.1,384.9 188.9,384.4C189.7,384.0 190.5,383.7 191.4,383.5C192.2,383.2 192.9,383.0 193.9,382.8C194.8,382.6 196.1,382.4 197.2,382.3C198.3,382.2 199.4,382.3 200.5,382.3C201.6,382.3 202.7,382.2 203.8,382.3C204.9,382.4 206.0,382.5 207.1,382.8C208.2,383.1 209.4,383.5 210.5,384.0C211.6,384.4 212.7,385.1 213.8,385.6C214.9,386.2 216.0,386.7 217.1,387.3C218.2,387.8 219.6,388.5 220.4,388.9C221.3,389.4 221.5,390.2 222.1,390.1C222.6,390.0 223.2,388.8 223.7,388.1C224.3,387.4 224.8,386.3 225.4,385.6C226.0,384.9 226.4,384.5 227.1,384.0C227.8,383.4 228.7,382.7 229.6,382.3C230.4,381.9 231.1,381.7 232.0,381.5C233.0,381.3 234.3,381.2 235.4,381.1C236.5,381.0 231.6,380.9 238.7,380.8C245.8,380.7 269.4,380.9 278.0,380.8C286.6,380.7 282.6,380.4 290.6,380.3C298.5,380.2 319.4,380.2 325.7,380.3C332.0,380.4 320.6,380.7 328.2,380.8C335.8,380.9 359.7,380.8 371.0,380.8C382.3,380.8 391.3,380.7 396.1,380.8C400.9,380.9 398.8,381.3 399.9,381.5C400.9,381.8 401.5,382.1 402.4,382.0C403.2,382.0 404.0,381.3 404.9,381.0C405.7,380.8 395.1,380.4 407.4,380.3C419.7,380.2 466.9,380.4 478.8,380.4" fill="none" stroke="#00ff00" stroke-width="1.75" stroke-linejoin="round"/><path d="M80.0,379.3C80.2,379.3 80.6,379.1 81.2,378.9C81.7,378.8 82.6,378.7 83.4,378.5C84.1,378.3 84.8,377.9 85.5,377.8C86.3,377.7 87.0,377.9 87.7,377.8C88.5,377.7 89.2,377.3 89.9,377.2C90.6,377.1 91.4,377.1 92.1,377.2C92.8,377.3 93.5,377.6 94.3,377.8C95.0,378.0 95.7,378.2 96.5,378.5C97.2,378.7 97.9,379.1 98.6,379.3C99.4,379.6 100.1,380.2 100.8,380.2C101.5,380.2 102.3,379.6 103.0,379.3C103.7,379.1 104.5,378.8 105.2,378.5C105.9,378.1 106.5,377.6 107.4,377.2C108.3,376.7 109.5,375.8 110.6,375.6C111.7,375.5 113.2,376.2 113.9,376.3C114.6,376.4 114.1,376.1 114.7,376.1C115.2,376.2 116.2,376.4 117.2,376.5C118.1,376.6 119.4,376.7 120.5,376.8C121.6,377.0 122.7,377.1 123.8,377.3C124.9,377.5 126.3,378.0 127.1,378.1C128.0,378.3 128.1,378.3 128.8,378.1C129.5,378.0 130.5,377.6 131.3,377.3C132.1,377.0 132.8,376.8 133.8,376.5C134.7,376.2 136.0,375.9 137.1,375.7C138.2,375.4 139.5,375.3 140.4,375.2C141.4,375.0 142.1,374.8 142.9,374.8C143.7,374.8 144.4,375.0 145.4,375.2C146.4,375.3 147.6,375.7 148.7,375.7C149.8,375.7 151.2,375.4 152.0,375.2C152.9,374.9 153.1,375.4 153.7,374.0C154.3,372.6 154.8,368.9 155.4,366.5C155.9,364.2 156.5,361.3 157.0,359.9C157.6,358.5 158.4,358.5 158.7,358.2C159.0,357.9 158.7,357.9 159.0,358.2C159.3,358.5 160.1,360.4 160.7,359.9C161.2,359.3 161.8,356.3 162.3,354.9C162.8,353.5 163.2,351.5 163.6,351.2C164.1,351.0 164.4,351.5 164.8,353.2C165.2,355.0 165.6,358.8 166.0,361.5C166.4,364.3 166.8,368.0 167.3,369.8C167.8,371.6 168.4,371.6 169.0,372.3C169.5,373.0 170.1,373.6 170.6,374.0C171.2,374.4 171.7,374.4 172.3,374.8C172.8,375.2 173.4,376.9 173.9,376.5C174.5,376.1 175.0,373.6 175.6,372.3C176.2,371.1 176.7,369.4 177.3,369.0C177.8,368.6 178.4,370.5 178.9,369.8C179.5,369.1 180.0,366.1 180.6,364.9C181.1,363.6 181.7,363.2 182.2,362.4C182.8,361.5 183.3,360.0 183.9,359.9C184.5,359.7 185.0,360.3 185.6,361.5C186.1,362.8 186.7,365.6 187.2,367.4C187.8,369.1 188.3,371.2 188.9,372.3C189.4,373.4 190.0,374.1 190.5,374.0C191.1,373.9 191.6,372.3 192.2,371.5C192.8,370.7 193.3,369.7 193.9,369.0C194.4,368.3 195.0,367.2 195.5,367.4C196.1,367.5 196.6,369.0 197.2,369.8C197.7,370.7 198.3,372.2 198.8,372.3C199.4,372.5 199.9,371.1 200.5,370.7C201.1,370.3 201.6,369.8 202.2,369.8C202.7,369.9 203.3,370.8 203.8,371.2C204.4,371.6 204.9,372.4 205.5,372.3C206.0,372.2 206.6,371.1 207.1,370.7C207.7,370.3 208.2,370.4 208.8,369.8C209.4,369.3 209.9,367.9 210.5,367.4C211.0,366.8 211.6,366.4 212.1,366.5C212.7,366.7 213.2,367.8 213.8,368.2C214.3,368.6 214.9,368.7 215.4,369.0C216.0,369.3 216.5,369.8 217.1,369.8C217.7,369.9 218.2,369.5 218.8,369.5C219.3,369.6 219.9,370.1 220.4,370.2C221.0,370.2 221.5,369.5 222.1,369.8C222.6,370.2 223.2,371.6 223.7,372.3C224.3,373.0 224.8,373.6 225.4,374.0C226.0,374.4 226.5,374.4 227.1,374.5C227.6,374.6 228.2,374.6 228.7,374.8C229.3,375.0 229.8,375.7 230.4,375.7C230.9,375.6 231.5,374.5 232.0,374.5C232.6,374.5 233.1,375.3 233.7,375.7C234.3,376.0 234.8,376.2 235.4,376.5C235.9,376.8 236.5,377.6 237.0,377.3C237.6,377.0 238.1,377.2 238.7,374.8C239.2,372.5 239.9,367.3 240.3,363.2C240.8,359.1 240.8,353.6 241.3,350.4C241.7,347.2 242.6,344.7 243.3,344.1C243.9,343.5 244.6,344.3 245.3,346.6C245.9,348.9 246.4,354.8 247.0,357.9C247.6,361.0 248.2,364.6 248.8,365.4C249.4,366.3 250.1,364.4 250.8,362.9C251.5,361.5 252.2,357.5 252.8,356.7C253.4,355.8 254.0,356.9 254.6,357.9C255.1,359.0 255.7,362.3 256.3,362.9C256.9,363.6 257.7,361.7 258.3,361.7C259.0,361.7 259.7,362.3 260.3,362.9C261.0,363.6 261.5,365.2 262.1,365.4C262.7,365.7 263.2,364.5 263.8,364.2C264.5,363.9 265.2,363.4 265.9,363.4C266.5,363.4 267.2,364.5 267.9,364.2C268.5,363.9 269.0,362.3 269.6,361.7C270.2,361.0 270.7,360.2 271.4,360.4C272.0,360.6 272.7,361.7 273.4,362.9C274.1,364.2 274.8,366.9 275.4,368.0C276.0,369.0 276.7,369.0 277.1,369.2C277.6,369.4 277.4,368.8 278.0,369.2C278.6,369.6 279.8,371.5 280.5,371.7C281.3,371.9 281.9,371.1 282.5,370.5C283.1,369.8 283.8,368.0 284.3,368.0C284.8,368.0 285.0,369.2 285.5,370.5C286.1,371.7 286.9,374.0 287.5,375.5C288.2,376.9 288.8,378.5 289.3,379.2C289.8,380.0 284.5,380.1 290.6,380.3C296.6,380.4 319.8,380.2 325.7,380.3C331.6,380.3 325.6,381.3 326.0,380.4C326.4,379.5 327.3,376.7 328.0,375.0C328.7,373.3 329.3,371.3 330.0,370.0C330.7,368.7 331.3,367.6 332.0,367.0C332.7,366.4 333.3,366.2 334.0,366.4C334.7,366.6 335.3,367.2 336.0,368.0C336.7,368.8 337.3,370.1 338.0,371.0C338.7,371.9 339.4,373.4 340.0,373.6C340.6,373.8 341.1,373.3 341.6,372.4C342.1,371.5 342.5,369.7 343.0,368.0C343.5,366.3 343.9,363.7 344.4,362.0C344.9,360.3 345.5,358.5 346.0,358.0C346.5,357.5 347.1,359.3 347.6,359.0C348.1,358.7 348.4,356.8 349.0,356.0C349.6,355.2 350.4,354.2 351.0,354.0C351.6,353.8 351.9,355.3 352.4,355.0C352.9,354.7 353.5,352.7 354.0,352.0C354.5,351.3 355.1,350.8 355.6,351.0C356.1,351.2 356.5,352.0 357.0,353.0C357.5,354.0 357.9,355.7 358.4,357.0C358.9,358.3 359.5,360.0 360.0,361.0C360.5,362.0 361.1,362.5 361.6,363.0C362.1,363.5 362.5,364.5 363.0,364.0C363.5,363.5 363.9,362.3 364.4,360.0C364.9,357.7 365.5,352.7 366.0,350.0C366.5,347.3 367.1,344.8 367.6,344.0C368.1,343.2 368.5,343.7 369.0,345.0C369.5,346.3 370.0,349.7 370.4,352.0C370.8,354.3 371.2,357.5 371.6,359.0C372.0,360.5 372.5,361.3 373.0,361.0C373.5,360.7 374.0,358.8 374.4,357.0C374.8,355.2 375.2,352.5 375.6,350.0C376.0,347.5 376.5,343.8 377.0,342.0C377.5,340.2 377.9,339.0 378.4,339.0C378.9,339.0 379.5,341.0 380.0,342.0C380.5,343.0 381.1,346.5 381.6,345.0C382.1,343.5 382.5,335.6 383.0,332.8C383.6,330.0 384.3,329.1 384.8,328.3C385.3,327.5 385.6,327.0 386.1,327.8C386.5,328.5 386.9,329.5 387.3,332.8C387.7,336.2 388.2,343.3 388.6,347.9C389.0,352.5 389.3,356.9 389.8,360.4C390.3,364.0 391.0,367.3 391.6,369.2C392.2,371.1 392.9,371.5 393.6,371.7C394.3,371.9 395.0,371.9 395.6,370.5C396.2,369.0 396.9,366.3 397.4,362.9C397.9,359.6 398.2,354.4 398.6,350.4C399.1,346.4 399.7,341.5 400.1,339.1C400.6,336.7 401.0,335.8 401.4,335.8C401.8,335.8 402.2,336.2 402.6,339.1C403.0,341.9 403.3,347.7 403.6,352.9C404.0,358.1 404.5,366.3 404.9,370.5C405.3,374.6 405.7,376.4 406.1,378.0C406.6,379.6 395.3,379.8 407.4,380.3C419.5,380.7 466.9,380.4 478.8,380.4" fill="none" stroke="#0000ff" stroke-width="1.75" stroke-linejoin="round"/><path d="M80.0,381.1C80.2,381.2 80.6,381.3 81.2,381.5C81.7,381.7 82.6,382.0 83.4,382.2C84.1,382.4 84.8,382.7 85.5,382.8C86.3,383.0 87.0,383.1 87.7,383.3C88.5,383.4 89.2,383.7 89.9,383.7C90.6,383.7 91.4,383.4 92.1,383.3C92.8,383.1 93.5,383.0 94.3,382.8C95.0,382.7 95.7,382.5 96.5,382.2C97.2,381.9 97.9,381.4 98.6,381.1C99.4,380.8 100.1,380.1 100.8,380.2C101.5,380.3 102.3,381.1 103.0,381.5C103.7,382.0 104.5,382.5 105.2,382.8C105.9,383.2 106.5,383.4 107.4,383.7C108.3,384.1 109.5,384.7 110.6,385.0C111.7,385.3 112.8,385.5 113.9,385.5C115.0,385.4 116.1,384.8 117.2,384.8C118.3,384.7 119.4,385.2 120.5,385.1C121.6,385.1 122.7,384.7 123.8,384.4C124.9,384.2 126.3,383.7 127.1,383.5C128.0,383.2 128.1,382.8 128.8,382.8C129.5,382.7 130.5,382.9 131.3,383.1C132.1,383.3 132.8,383.7 133.8,384.0C134.7,384.2 136.0,384.5 137.1,384.8C138.2,385.1 139.3,385.4 140.4,385.6C141.5,385.8 142.6,386.0 143.7,386.1C144.8,386.2 146.0,386.2 147.1,386.1C148.2,386.0 149.6,385.8 150.4,385.6C151.2,385.4 151.5,384.6 152.0,384.8C152.6,384.9 153.1,385.1 153.7,386.4C154.3,387.8 154.8,390.9 155.4,393.1C155.9,395.3 156.5,398.2 157.0,399.7C157.6,401.2 158.4,402.2 158.7,402.2C159.0,402.2 158.7,399.9 159.0,399.7C159.3,399.6 160.1,400.3 160.7,401.4C161.2,402.5 161.8,405.0 162.3,406.4C162.8,407.7 163.2,410.0 163.6,409.7C164.1,409.4 164.4,406.9 164.8,404.7C165.2,402.5 165.6,398.9 166.0,396.4C166.4,393.9 166.8,391.3 167.3,389.8C167.8,388.2 168.4,388.0 169.0,387.3C169.5,386.6 170.1,386.0 170.6,385.6C171.2,385.2 171.7,385.1 172.3,384.8C172.8,384.4 173.4,383.2 173.9,383.5C174.5,383.7 175.0,385.1 175.6,386.4C176.2,387.8 176.7,390.7 177.3,391.4C177.8,392.1 178.4,390.3 178.9,390.6C179.5,390.9 180.0,391.6 180.6,393.1C181.1,394.6 181.7,398.3 182.2,399.7C182.8,401.1 183.3,401.5 183.9,401.4C184.5,401.2 185.0,400.3 185.6,398.9C186.1,397.5 186.7,394.6 187.2,393.1C187.8,391.6 188.3,390.5 188.9,389.8C189.4,389.1 190.0,388.7 190.5,388.9C191.1,389.2 191.6,390.7 192.2,391.4C192.8,392.1 193.3,393.1 193.9,393.1C194.4,393.1 195.0,392.0 195.5,391.4C196.1,390.9 196.6,389.9 197.2,389.8C197.7,389.6 198.3,390.3 198.8,390.6C199.4,390.9 199.9,391.3 200.5,391.4C201.1,391.5 201.6,391.0 202.2,391.1C202.7,391.1 203.3,391.8 203.8,391.8C204.4,391.7 204.9,390.6 205.5,390.6C206.0,390.5 206.6,391.0 207.1,391.4C207.7,391.8 208.2,392.7 208.8,393.1C209.4,393.5 209.9,393.8 210.5,393.9C211.0,394.0 211.6,394.1 212.1,393.9C212.7,393.7 213.2,393.0 213.8,392.7C214.3,392.5 214.9,392.4 215.4,392.3C216.0,392.1 216.5,391.9 217.1,391.8C217.7,391.6 218.2,391.4 218.8,391.4C219.3,391.4 219.9,391.8 220.4,391.8C221.0,391.7 221.5,391.7 222.1,391.1C222.6,390.5 223.2,388.9 223.7,388.1C224.3,387.3 224.8,386.8 225.4,386.4C226.0,386.1 226.5,386.2 227.1,386.1C227.6,386.0 228.2,385.8 228.7,385.6C229.3,385.4 229.8,384.8 230.4,384.8C230.9,384.8 231.5,385.6 232.0,385.6C232.6,385.6 233.1,385.1 233.7,384.8C234.3,384.5 234.8,384.2 235.4,384.0C235.9,383.7 236.5,382.7 237.0,383.1C237.6,383.5 238.1,384.2 238.7,386.4C239.2,388.7 239.9,394.1 240.3,396.4C240.8,398.7 240.9,397.8 241.3,400.1C241.7,402.4 242.3,407.4 242.8,410.2C243.2,412.9 243.6,416.0 244.0,416.4C244.4,416.9 244.8,415.0 245.3,412.7C245.8,410.4 246.4,405.3 247.0,402.6C247.6,399.9 248.2,397.8 248.8,396.4C249.4,394.9 250.1,393.4 250.8,393.8C251.5,394.3 252.2,397.6 252.8,398.9C253.4,400.1 254.0,401.6 254.6,401.4C255.1,401.2 255.7,398.4 256.3,397.6C256.9,396.8 257.7,396.4 258.3,396.4C259.0,396.4 259.7,397.6 260.3,397.6C261.0,397.6 261.5,396.8 262.1,396.4C262.7,395.9 263.2,395.4 263.8,395.1C264.5,394.8 265.2,394.4 265.9,394.6C266.5,394.8 267.2,395.6 267.9,396.4C268.5,397.1 269.0,398.2 269.6,398.9C270.2,399.5 270.7,400.3 271.4,400.1C272.0,399.9 272.7,398.7 273.4,397.6C274.1,396.6 274.8,394.9 275.4,393.8C276.0,392.8 276.7,391.8 277.1,391.3C277.6,390.9 277.5,391.2 278.0,391.3C278.5,391.5 279.4,392.3 280.0,392.1C280.6,391.9 281.3,390.6 281.8,390.1C282.3,389.5 282.5,388.0 283.0,388.8C283.6,389.7 284.4,394.9 285.0,395.1C285.7,395.3 286.2,392.0 286.8,390.1C287.4,388.2 288.0,385.3 288.5,383.8C289.1,382.3 289.7,381.9 290.0,381.3C290.4,380.7 284.7,380.4 290.6,380.3C296.4,380.1 318.9,379.4 325.0,380.4C331.1,381.4 326.3,384.4 327.0,386.0C327.7,387.6 328.2,388.7 329.0,390.0C329.8,391.3 331.1,393.2 332.0,394.0C332.9,394.8 333.7,395.2 334.4,395.0C335.1,394.8 335.7,393.8 336.4,393.0C337.1,392.2 337.8,390.8 338.4,390.0C339.0,389.2 339.5,388.2 340.0,388.0C340.5,387.8 341.1,387.8 341.6,389.0C342.1,390.2 342.5,393.0 343.0,395.0C343.5,397.0 343.9,399.7 344.4,401.0C344.9,402.3 345.4,402.5 346.0,403.0C346.6,403.5 347.3,403.3 348.0,404.0C348.7,404.7 349.3,406.7 350.0,407.0C350.7,407.3 351.3,405.7 352.0,406.0C352.7,406.3 353.4,408.3 354.0,409.0C354.6,409.7 355.1,410.3 355.6,410.0C356.1,409.7 356.5,408.2 357.0,407.0C357.5,405.8 357.9,404.2 358.4,403.0C358.9,401.8 359.4,401.0 360.0,400.0C360.6,399.0 361.4,397.3 362.0,397.0C362.6,396.7 363.1,396.7 363.6,398.0C364.1,399.3 364.5,402.5 365.0,405.0C365.5,407.5 365.9,411.0 366.4,413.0C366.9,415.0 367.5,417.0 368.0,417.0C368.5,417.0 369.1,415.0 369.6,413.0C370.1,411.0 370.5,407.2 371.0,405.0C371.5,402.8 371.9,400.5 372.4,400.0C372.9,399.5 373.5,400.3 374.0,402.0C374.5,403.7 375.1,407.3 375.6,410.0C376.1,412.7 376.5,416.0 377.0,418.0C377.5,420.0 377.9,422.0 378.4,422.0C378.9,422.0 379.4,419.0 380.0,418.0C380.6,417.0 381.5,414.6 382.0,416.0C382.5,417.4 382.6,423.7 383.0,426.5C383.5,429.3 384.3,431.5 384.8,432.8C385.3,434.0 385.6,434.8 386.1,434.0C386.5,433.2 386.9,431.3 387.3,427.7C387.7,424.2 388.2,417.3 388.6,412.7C389.0,408.1 389.3,403.5 389.8,400.1C390.3,396.8 391.0,394.3 391.6,392.6C392.2,390.9 392.9,390.3 393.6,390.1C394.3,389.9 395.0,390.1 395.6,391.3C396.2,392.6 396.8,394.1 397.4,397.6C397.9,401.2 398.6,408.5 399.1,412.7C399.7,416.9 400.2,420.6 400.6,422.7C401.0,424.8 401.2,425.8 401.6,425.2C402.0,424.6 402.5,422.7 402.9,418.9C403.3,415.2 403.7,407.9 404.1,402.6C404.6,397.4 405.2,391.1 405.6,387.6C406.1,384.0 406.6,382.5 406.9,381.3C407.2,380.1 395.4,380.4 407.4,380.3C419.4,380.1 466.9,380.4 478.8,380.4" fill="none" stroke="#0000ff" stroke-width="1.75" stroke-linejoin="round"/></g>
<rect x="286.5" y="27.8" width="37" height="17.6" fill="#d3d3d3" stroke="#8c8c8c" stroke-width="0.9"/>
<line x1="285.5" y1="57.9" x2="324.9" y2="57.9" stroke="#ff8000" stroke-width="1.8"/>
<line x1="410.6" y1="36.6" x2="450" y2="36.6" stroke="#00ff00" stroke-width="1.8"/>
<line x1="410.6" y1="57.9" x2="450" y2="57.9" stroke="#0000ff" stroke-width="1.8"/>
<g font-size="17.3">
<text x="328.5" y="42">Total DOS</text>
<text x="328.5" y="63">S</text>
<text x="454.6" y="42">Ag</text>
<text x="454.3" y="63">Cr</text>
</g><g font-size="23"><text x="74.8" y="25.0" text-anchor="end">40</text><text x="74.8" y="84.6" text-anchor="end">20</text><text x="74.8" y="144.2" text-anchor="end">0</text><text x="74.8" y="203.9" text-anchor="end">−20</text><text x="74.8" y="263.4" text-anchor="end">−40</text><text x="74.8" y="307.5" text-anchor="end">10</text><text x="74.8" y="387.1" text-anchor="end">0</text><text x="74.8" y="466.7" text-anchor="end">−10</text><text x="79.8" y="521.9" text-anchor="middle">−5</text><text x="119.7" y="521.9" text-anchor="middle">−4</text><text x="159.6" y="521.9" text-anchor="middle">−3</text><text x="199.5" y="521.9" text-anchor="middle">−2</text><text x="239.4" y="521.9" text-anchor="middle">−1</text><text x="279.3" y="521.9" text-anchor="middle">0</text><text x="319.2" y="521.9" text-anchor="middle">1</text><text x="359.1" y="521.9" text-anchor="middle">2</text><text x="399.0" y="521.9" text-anchor="middle">3</text><text x="438.9" y="521.9" text-anchor="middle">4</text><text x="478.8" y="521.9" text-anchor="middle">5</text><text x="295.1" y="540" text-anchor="middle" font-size="22"><tspan font-style="italic">E</tspan> − <tspan font-style="italic">E</tspan><tspan font-size="15" dy="5">F</tspan><tspan dy="-5"> (eV)</tspan></text><text transform="translate(27.2,232.5) rotate(-90)" text-anchor="middle" font-size="22.5">DOS</text></g>
</svg>
</body></html>
